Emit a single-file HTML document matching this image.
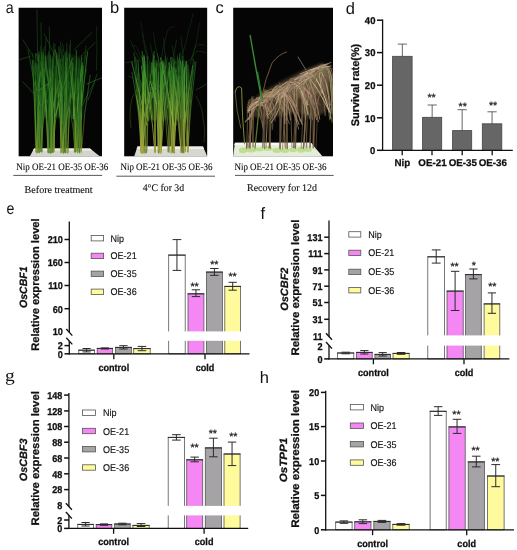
<!DOCTYPE html>
<html lang="en">
<head>
<meta charset="utf-8">
<title>Figure</title>
<style>
html,body{margin:0;padding:0;background:#fff;}
svg{display:block;}
text{text-rendering:geometricPrecision;}
</style>
</head>
<body>
<svg width="517" height="550" viewBox="0 0 517 550">
<defs>
<filter id="b1" x="-5%" y="-5%" width="110%" height="110%"><feGaussianBlur stdDeviation="0.45"/></filter>
<filter id="b3" x="-20%" y="-20%" width="140%" height="140%"><feGaussianBlur stdDeviation="3"/></filter>
<filter id="b2" x="-20%" y="-20%" width="140%" height="140%"><feGaussianBlur stdDeviation="1.5"/></filter>
<clipPath id="ca"><rect x="18.4" y="7.5" width="83.7" height="149.1"/></clipPath>
<clipPath id="cb"><rect x="124.1" y="7.5" width="83.3" height="149.1"/></clipPath>
<clipPath id="cc"><rect x="233.1" y="7.5" width="99.9" height="149.1"/></clipPath>
</defs>
<rect x="0" y="0" width="517" height="550" fill="#fff"/>
<defs>
<linearGradient id="ga1" gradientUnits="userSpaceOnUse" x1="0" y1="152" x2="0" y2="30">
<stop offset="0" stop-color="#5f8a26"/><stop offset="0.3" stop-color="#3c8424"/><stop offset="0.6" stop-color="#226a1e"/><stop offset="1" stop-color="#1a4a18"/></linearGradient>
<linearGradient id="ga2" gradientUnits="userSpaceOnUse" x1="0" y1="152" x2="0" y2="30">
<stop offset="0" stop-color="#3a6a1c"/><stop offset="0.3" stop-color="#235e1c"/><stop offset="0.6" stop-color="#164a16"/><stop offset="1" stop-color="#103410"/></linearGradient>
<linearGradient id="ga3" gradientUnits="userSpaceOnUse" x1="0" y1="152" x2="0" y2="30">
<stop offset="0" stop-color="#8ea432"/><stop offset="0.3" stop-color="#5e9c2a"/><stop offset="0.6" stop-color="#3a8a24"/><stop offset="1" stop-color="#2a6a20"/></linearGradient>
<linearGradient id="gb1" gradientUnits="userSpaceOnUse" x1="0" y1="152" x2="0" y2="30">
<stop offset="0" stop-color="#8c9a30"/><stop offset="0.3" stop-color="#6a942a"/><stop offset="0.6" stop-color="#2e8026"/><stop offset="1" stop-color="#20521c"/></linearGradient>
<linearGradient id="gb2" gradientUnits="userSpaceOnUse" x1="0" y1="152" x2="0" y2="30">
<stop offset="0" stop-color="#5c6e22"/><stop offset="0.3" stop-color="#4a7222"/><stop offset="0.6" stop-color="#226420"/><stop offset="1" stop-color="#183e16"/></linearGradient>
<linearGradient id="gb3" gradientUnits="userSpaceOnUse" x1="0" y1="152" x2="0" y2="30">
<stop offset="0" stop-color="#b0ac3e"/><stop offset="0.3" stop-color="#90aa36"/><stop offset="0.6" stop-color="#489a2e"/><stop offset="1" stop-color="#2e6e24"/></linearGradient>
<linearGradient id="gm" gradientUnits="userSpaceOnUse" x1="0" y1="152" x2="0" y2="40">
<stop offset="0" stop-color="#22381a"/><stop offset="0.4" stop-color="#123412"/><stop offset="1" stop-color="#0a200c"/></linearGradient>
<linearGradient id="gmb" gradientUnits="userSpaceOnUse" x1="0" y1="152" x2="0" y2="40">
<stop offset="0" stop-color="#2c3c18"/><stop offset="0.4" stop-color="#183c14"/><stop offset="1" stop-color="#0c220c"/></linearGradient>
</defs>
<g clip-path="url(#ca)">
<rect x="18.4" y="7.5" width="83.7" height="149.1" fill="#050505"/>
<g filter="url(#b1)">
<path d="M34 148.4L90 148.4L100.6 157L29.5 157Z" fill="#d4d4ce"/>
<path d="M34 148.4L90 148.4L92.2 150.4L33 150.4Z" fill="#eeeeea"/>
<path d="M38 118L35 76L40 54L52 57L60 59L70 54L80 57L84 70L84 100L82 118Z" fill="url(#gm)" opacity="0.9" filter="url(#b2)"/>
<path d="M37.2 152.2Q37.19 103.76 41.21 55.32" fill="none" stroke="url(#ga2)" stroke-width="1.01" stroke-linecap="round" stroke-opacity="0.81"/>
<path d="M38.01 150.94Q39.36 98.78 44.25 46.61" fill="none" stroke="url(#ga2)" stroke-width="0.85" stroke-linecap="round" stroke-opacity="0.93"/>
<path d="M39.11 152.86Q39.62 105.25 46.17 57.64" fill="none" stroke="url(#ga2)" stroke-width="0.73" stroke-linecap="round" stroke-opacity="0.91"/>
<path d="M39.02 152.2Q38.99 117.97 42.05 83.75" fill="none" stroke="url(#ga2)" stroke-width="0.89" stroke-linecap="round" stroke-opacity="0.82"/>
<path d="M40.06 151.55Q38.67 106.06 33.82 60.57" fill="none" stroke="url(#ga1)" stroke-width="0.86" stroke-linecap="round" stroke-opacity="0.87"/>
<path d="M36.65 152.18Q35.35 102.83 32.72 53.48" fill="none" stroke="url(#ga2)" stroke-width="0.84" stroke-linecap="round" stroke-opacity="0.95"/>
<path d="M36.94 153.04Q37.01 102.42 38.89 51.8" fill="none" stroke="url(#ga1)" stroke-width="0.79" stroke-linecap="round" stroke-opacity="0.95"/>
<path d="M39.04 151.99Q38.72 103.39 38.96 54.78" fill="none" stroke="url(#ga1)" stroke-width="0.96" stroke-linecap="round" stroke-opacity="0.97"/>
<path d="M41.77 152.19Q40.12 103.08 35.39 53.97" fill="none" stroke="url(#ga1)" stroke-width="0.91" stroke-linecap="round" stroke-opacity="0.86"/>
<path d="M37.66 151.65Q38.72 109.73 38.56 67.8" fill="none" stroke="url(#ga1)" stroke-width="0.87" stroke-linecap="round" stroke-opacity="0.81"/>
<path d="M40.47 151.2Q41.24 107.89 44.31 64.59" fill="none" stroke="url(#ga2)" stroke-width="0.78" stroke-linecap="round" stroke-opacity="0.98"/>
<path d="M40.85 151.66Q41.52 108.56 45.04 65.47" fill="none" stroke="url(#ga2)" stroke-width="1" stroke-linecap="round" stroke-opacity="0.83"/>
<path d="M36.12 151.48Q35.33 107.3 35.38 63.13" fill="none" stroke="url(#ga3)" stroke-width="0.67" stroke-linecap="round" stroke-opacity="0.87"/>
<path d="M38.99 152.28Q39.86 102.82 43.22 53.36" fill="none" stroke="url(#ga1)" stroke-width="0.9" stroke-linecap="round" stroke-opacity="0.89"/>
<path d="M41.23 151.05Q42.89 110.19 50.53 69.34" fill="none" stroke="url(#ga1)" stroke-width="0.89" stroke-linecap="round" stroke-opacity="0.84"/>
<path d="M42.07 150.93Q41.61 101.34 41.38 51.76" fill="none" stroke="url(#ga2)" stroke-width="0.6" stroke-linecap="round" stroke-opacity="0.91"/>
<path d="M41.8 151.41Q41.11 101.81 41.87 52.21" fill="none" stroke="url(#ga2)" stroke-width="0.76" stroke-linecap="round" stroke-opacity="0.89"/>
<path d="M35.67 151.96Q35.04 108.92 32.88 65.88" fill="none" stroke="url(#ga1)" stroke-width="0.64" stroke-linecap="round" stroke-opacity="0.95"/>
<path d="M52.77 152.07Q52.17 104.43 45.29 56.79" fill="none" stroke="url(#ga3)" stroke-width="0.67" stroke-linecap="round" stroke-opacity="0.98"/>
<path d="M52.9 152.47Q54.04 109.05 54.98 65.63" fill="none" stroke="url(#ga2)" stroke-width="0.72" stroke-linecap="round" stroke-opacity="0.98"/>
<path d="M49.94 152.75Q49.51 109.98 50.58 67.21" fill="none" stroke="url(#ga2)" stroke-width="1.04" stroke-linecap="round" stroke-opacity="0.96"/>
<path d="M53.34 151.98Q54.33 117.65 61.28 83.31" fill="none" stroke="url(#ga1)" stroke-width="0.93" stroke-linecap="round" stroke-opacity="0.96"/>
<path d="M50.8 153.17Q52.17 104.89 53.29 56.6" fill="none" stroke="url(#ga2)" stroke-width="1.03" stroke-linecap="round" stroke-opacity="0.82"/>
<path d="M48.07 152.3Q48.59 102.32 53.64 52.34" fill="none" stroke="url(#ga1)" stroke-width="1.01" stroke-linecap="round" stroke-opacity="0.9"/>
<path d="M52.13 152.51Q52.16 106.29 53.4 60.08" fill="none" stroke="url(#ga2)" stroke-width="0.69" stroke-linecap="round" stroke-opacity="0.89"/>
<path d="M52 151.75Q52.6 103.38 50.3 55.01" fill="none" stroke="url(#ga1)" stroke-width="0.78" stroke-linecap="round" stroke-opacity="0.94"/>
<path d="M48.57 152.78Q48.06 107.75 49.55 62.71" fill="none" stroke="url(#ga2)" stroke-width="1.04" stroke-linecap="round" stroke-opacity="0.83"/>
<path d="M51.36 152.36Q52.78 97.79 53.79 43.21" fill="none" stroke="url(#ga2)" stroke-width="0.84" stroke-linecap="round" stroke-opacity="0.89"/>
<path d="M53.74 152.63Q54.36 102.63 56.85 52.62" fill="none" stroke="url(#ga3)" stroke-width="0.75" stroke-linecap="round" stroke-opacity="0.88"/>
<path d="M48.28 152.2Q47.26 110.11 43.57 68.03" fill="none" stroke="url(#ga1)" stroke-width="1.01" stroke-linecap="round" stroke-opacity="0.97"/>
<path d="M53.78 151.24Q54.37 103.94 57.32 56.64" fill="none" stroke="url(#ga2)" stroke-width="0.6" stroke-linecap="round" stroke-opacity="0.83"/>
<path d="M50.8 152.44Q50.37 106.26 53.02 60.09" fill="none" stroke="url(#ga1)" stroke-width="0.84" stroke-linecap="round" stroke-opacity="0.96"/>
<path d="M48.1 151.89Q46.23 100.8 42.79 49.72" fill="none" stroke="url(#ga1)" stroke-width="0.61" stroke-linecap="round" stroke-opacity="0.89"/>
<path d="M51.83 151.47Q51 114.04 50.7 76.61" fill="none" stroke="url(#ga1)" stroke-width="0.83" stroke-linecap="round" stroke-opacity="0.9"/>
<path d="M49.14 151.29Q47.52 107.99 37.1 64.69" fill="none" stroke="url(#ga1)" stroke-width="0.8" stroke-linecap="round" stroke-opacity="0.82"/>
<path d="M50.57 151.31Q50.06 102.19 48.73 53.07" fill="none" stroke="url(#ga1)" stroke-width="0.74" stroke-linecap="round" stroke-opacity="0.98"/>
<path d="M61.96 151.92Q60.64 99.36 58.98 46.8" fill="none" stroke="url(#ga1)" stroke-width="0.94" stroke-linecap="round" stroke-opacity="0.88"/>
<path d="M64.41 151.84Q62.14 118.07 56.46 84.3" fill="none" stroke="url(#ga2)" stroke-width="0.83" stroke-linecap="round" stroke-opacity="0.88"/>
<path d="M63.44 150.84Q64.1 104.63 67.31 58.42" fill="none" stroke="url(#ga3)" stroke-width="0.75" stroke-linecap="round" stroke-opacity="0.86"/>
<path d="M67.89 153.13Q69.38 105.45 72.46 57.78" fill="none" stroke="url(#ga2)" stroke-width="0.65" stroke-linecap="round" stroke-opacity="0.85"/>
<path d="M67.49 153.07Q68.91 108.26 72.83 63.44" fill="none" stroke="url(#ga3)" stroke-width="0.78" stroke-linecap="round" stroke-opacity="0.98"/>
<path d="M65.02 152.72Q66.31 109.92 73.67 67.12" fill="none" stroke="url(#ga1)" stroke-width="0.68" stroke-linecap="round" stroke-opacity="0.85"/>
<path d="M60.94 152.87Q60.45 118.99 62.79 85.11" fill="none" stroke="url(#ga2)" stroke-width="0.8" stroke-linecap="round" stroke-opacity="1"/>
<path d="M63.89 152.5Q63.37 106.04 65.85 59.57" fill="none" stroke="url(#ga2)" stroke-width="1.02" stroke-linecap="round" stroke-opacity="0.85"/>
<path d="M62.15 152Q62.91 116.91 68.03 81.82" fill="none" stroke="url(#ga2)" stroke-width="0.68" stroke-linecap="round" stroke-opacity="0.96"/>
<path d="M68.14 152.12Q68.33 97.68 66.76 43.23" fill="none" stroke="url(#ga1)" stroke-width="0.69" stroke-linecap="round" stroke-opacity="0.85"/>
<path d="M64.11 151.74Q63.87 112.29 59.57 72.83" fill="none" stroke="url(#ga2)" stroke-width="0.83" stroke-linecap="round" stroke-opacity="1"/>
<path d="M63.34 153.17Q61.17 116.98 56.08 80.78" fill="none" stroke="url(#ga2)" stroke-width="1.04" stroke-linecap="round" stroke-opacity="0.8"/>
<path d="M65.42 152.89Q67.05 98.58 70.14 44.27" fill="none" stroke="url(#ga2)" stroke-width="0.9" stroke-linecap="round" stroke-opacity="0.92"/>
<path d="M65.92 151.87Q64.57 100.88 62.63 49.89" fill="none" stroke="url(#ga2)" stroke-width="0.72" stroke-linecap="round" stroke-opacity="0.99"/>
<path d="M64.85 151.6Q64.35 102.15 65.52 52.7" fill="none" stroke="url(#ga2)" stroke-width="0.64" stroke-linecap="round" stroke-opacity="0.9"/>
<path d="M62.3 152.76Q64.12 117.58 75.47 82.39" fill="none" stroke="url(#ga3)" stroke-width="0.66" stroke-linecap="round" stroke-opacity="0.81"/>
<path d="M60.99 151.17Q61.07 119.87 57.89 88.56" fill="none" stroke="url(#ga3)" stroke-width="1" stroke-linecap="round" stroke-opacity="0.88"/>
<path d="M63.22 152.34Q64.3 101.94 66.35 51.54" fill="none" stroke="url(#ga3)" stroke-width="0.62" stroke-linecap="round" stroke-opacity="0.93"/>
<path d="M79.72 152.75Q80.26 117.17 81.73 81.6" fill="none" stroke="url(#ga3)" stroke-width="0.61" stroke-linecap="round" stroke-opacity="0.96"/>
<path d="M79.55 150.9Q78.32 114.38 77.55 77.86" fill="none" stroke="url(#ga1)" stroke-width="0.89" stroke-linecap="round" stroke-opacity="0.88"/>
<path d="M77.64 150.81Q77.79 114.98 78.48 79.14" fill="none" stroke="url(#ga3)" stroke-width="0.96" stroke-linecap="round" stroke-opacity="0.98"/>
<path d="M75 151.41Q75.24 104.83 73.83 58.25" fill="none" stroke="url(#ga2)" stroke-width="0.63" stroke-linecap="round" stroke-opacity="0.85"/>
<path d="M79.89 151.95Q80.03 104.67 81.79 57.4" fill="none" stroke="url(#ga1)" stroke-width="0.91" stroke-linecap="round" stroke-opacity="0.92"/>
<path d="M79.05 152.36Q80.4 102.18 87.49 52" fill="none" stroke="url(#ga3)" stroke-width="0.91" stroke-linecap="round" stroke-opacity="0.91"/>
<path d="M74.41 151.98Q74.3 105.68 76.66 59.38" fill="none" stroke="url(#ga2)" stroke-width="0.92" stroke-linecap="round" stroke-opacity="0.89"/>
<path d="M77.75 151.55Q78.15 104.72 79.25 57.9" fill="none" stroke="url(#ga1)" stroke-width="0.64" stroke-linecap="round" stroke-opacity="0.8"/>
<path d="M77.7 153Q78.67 109.45 83.69 65.9" fill="none" stroke="url(#ga1)" stroke-width="1.02" stroke-linecap="round" stroke-opacity="0.92"/>
<path d="M75.36 152.25Q72.21 108.57 60.98 64.9" fill="none" stroke="url(#ga2)" stroke-width="0.88" stroke-linecap="round" stroke-opacity="0.98"/>
<path d="M79.5 153.08Q79.24 104.39 81.62 55.7" fill="none" stroke="url(#ga1)" stroke-width="0.91" stroke-linecap="round" stroke-opacity="0.86"/>
<path d="M75.36 151.6Q76.67 103.49 85.7 55.39" fill="none" stroke="url(#ga2)" stroke-width="0.75" stroke-linecap="round" stroke-opacity="0.97"/>
<path d="M75.2 151.74Q76.22 108.8 81.58 65.85" fill="none" stroke="url(#ga3)" stroke-width="1.05" stroke-linecap="round" stroke-opacity="0.82"/>
<path d="M81.13 150.92Q80.23 107.22 78.82 63.52" fill="none" stroke="url(#ga2)" stroke-width="0.9" stroke-linecap="round" stroke-opacity="0.85"/>
<path d="M76.28 150.87Q75.25 106.61 71.85 62.35" fill="none" stroke="url(#ga1)" stroke-width="0.94" stroke-linecap="round" stroke-opacity="0.98"/>
<path d="M81.24 153.04Q80.68 107.98 82.62 62.92" fill="none" stroke="url(#ga3)" stroke-width="0.78" stroke-linecap="round" stroke-opacity="0.95"/>
<path d="M79.06 151.62Q79.04 105.98 79.2 60.33" fill="none" stroke="url(#ga2)" stroke-width="0.73" stroke-linecap="round" stroke-opacity="0.88"/>
<path d="M76.08 151.2Q76.01 104.84 76.81 58.47" fill="none" stroke="url(#ga2)" stroke-width="0.67" stroke-linecap="round" stroke-opacity="0.9"/>
<path d="M41.62 110.02Q38.25 92.43 35.16 74.85" fill="none" stroke="url(#ga2)" stroke-width="0.8" stroke-linecap="round" stroke-opacity="0.82"/>
<path d="M36.92 91.64Q37.42 73.37 38.88 55.09" fill="none" stroke="url(#ga1)" stroke-width="0.81" stroke-linecap="round" stroke-opacity="0.95"/>
<path d="M37.63 104.56Q33.15 81.7 30.42 58.85" fill="none" stroke="url(#ga2)" stroke-width="0.67" stroke-linecap="round" stroke-opacity="0.83"/>
<path d="M38.53 113.19Q37.41 95.99 37.43 78.79" fill="none" stroke="url(#ga2)" stroke-width="0.67" stroke-linecap="round" stroke-opacity="0.88"/>
<path d="M39.96 105.27Q36.6 94.03 34.73 82.79" fill="none" stroke="url(#ga3)" stroke-width="0.74" stroke-linecap="round" stroke-opacity="0.99"/>
<path d="M38.4 90.93Q45.62 86.14 51.13 81.35" fill="none" stroke="url(#ga3)" stroke-width="0.79" stroke-linecap="round" stroke-opacity="0.99"/>
<path d="M35.98 92.36Q39.44 82.14 41.14 71.92" fill="none" stroke="url(#ga3)" stroke-width="0.87" stroke-linecap="round" stroke-opacity="0.82"/>
<path d="M41.27 88.05Q45.17 69.41 48.79 50.77" fill="none" stroke="url(#ga2)" stroke-width="0.57" stroke-linecap="round" stroke-opacity="0.99"/>
<path d="M39.76 109.13Q33.48 79.45 27.99 49.78" fill="none" stroke="url(#ga2)" stroke-width="0.97" stroke-linecap="round" stroke-opacity="0.88"/>
<path d="M35.74 112.04Q37.78 79.22 40.62 46.4" fill="none" stroke="url(#ga2)" stroke-width="0.76" stroke-linecap="round" stroke-opacity="0.93"/>
<path d="M42.34 107.01Q43.02 94.76 42.88 82.5" fill="none" stroke="url(#ga1)" stroke-width="0.69" stroke-linecap="round" stroke-opacity="0.84"/>
<path d="M54.85 113.89Q57.12 81.48 60.47 49.08" fill="none" stroke="url(#ga2)" stroke-width="0.74" stroke-linecap="round" stroke-opacity="0.85"/>
<path d="M46.34 101.52Q41.95 77.52 36.37 53.53" fill="none" stroke="url(#ga1)" stroke-width="0.88" stroke-linecap="round" stroke-opacity="0.84"/>
<path d="M55.7 100.47Q57.88 88.81 61.14 77.16" fill="none" stroke="url(#ga2)" stroke-width="0.65" stroke-linecap="round" stroke-opacity="0.82"/>
<path d="M52.24 112.4Q54.79 96.5 59.11 80.6" fill="none" stroke="url(#ga3)" stroke-width="0.82" stroke-linecap="round" stroke-opacity="0.81"/>
<path d="M46.24 111.85Q44.04 86.81 41 61.78" fill="none" stroke="url(#ga3)" stroke-width="0.63" stroke-linecap="round" stroke-opacity="0.98"/>
<path d="M54.84 117.31Q62.89 87.91 72.21 58.51" fill="none" stroke="url(#ga3)" stroke-width="0.97" stroke-linecap="round" stroke-opacity="0.81"/>
<path d="M52.64 103.14Q52.17 81.68 52.37 60.21" fill="none" stroke="url(#ga1)" stroke-width="0.63" stroke-linecap="round" stroke-opacity="0.82"/>
<path d="M46.81 104.81Q50.18 89.82 54.03 74.83" fill="none" stroke="url(#ga2)" stroke-width="0.9" stroke-linecap="round" stroke-opacity="0.96"/>
<path d="M50.32 89.97Q46.89 76.98 43.97 63.99" fill="none" stroke="url(#ga2)" stroke-width="0.96" stroke-linecap="round" stroke-opacity="0.86"/>
<path d="M53.37 106.98Q51.27 88.37 49.54 69.77" fill="none" stroke="url(#ga3)" stroke-width="0.72" stroke-linecap="round" stroke-opacity="0.81"/>
<path d="M55.2 98.28Q53.91 86.34 51.03 74.4" fill="none" stroke="url(#ga2)" stroke-width="0.7" stroke-linecap="round" stroke-opacity="0.87"/>
<path d="M69.04 89.74Q68.5 85.43 68.78 81.12" fill="none" stroke="url(#ga1)" stroke-width="0.87" stroke-linecap="round" stroke-opacity="0.8"/>
<path d="M61.84 107.01Q57.01 94.68 50.37 82.36" fill="none" stroke="url(#ga2)" stroke-width="0.72" stroke-linecap="round" stroke-opacity="0.98"/>
<path d="M67.65 93.31Q66.76 87.34 66.66 81.38" fill="none" stroke="url(#ga2)" stroke-width="0.86" stroke-linecap="round" stroke-opacity="0.92"/>
<path d="M62.78 100.78Q63.35 80.27 62.8 59.75" fill="none" stroke="url(#ga2)" stroke-width="0.59" stroke-linecap="round" stroke-opacity="0.88"/>
<path d="M61.1 104.31Q57.88 85.5 56.03 66.7" fill="none" stroke="url(#ga1)" stroke-width="0.74" stroke-linecap="round" stroke-opacity="1"/>
<path d="M62.15 91.36Q58.67 70.51 55.21 49.66" fill="none" stroke="url(#ga3)" stroke-width="0.87" stroke-linecap="round" stroke-opacity="0.83"/>
<path d="M60.83 106.44Q63.51 86.45 65.09 66.47" fill="none" stroke="url(#ga2)" stroke-width="0.89" stroke-linecap="round" stroke-opacity="0.86"/>
<path d="M65.17 102.92Q62.83 88.48 61.7 74.05" fill="none" stroke="url(#ga2)" stroke-width="0.66" stroke-linecap="round" stroke-opacity="0.85"/>
<path d="M62.31 124.3Q62.32 89.93 63.35 55.56" fill="none" stroke="url(#ga1)" stroke-width="0.79" stroke-linecap="round" stroke-opacity="0.93"/>
<path d="M69.41 92.09Q71.32 78.07 71.95 64.04" fill="none" stroke="url(#ga2)" stroke-width="0.93" stroke-linecap="round" stroke-opacity="0.81"/>
<path d="M62.44 92.77Q67.03 80.47 69.91 68.16" fill="none" stroke="url(#ga2)" stroke-width="0.72" stroke-linecap="round" stroke-opacity="0.89"/>
<path d="M75.6 119.11Q84.17 100.52 94.32 81.94" fill="none" stroke="url(#ga2)" stroke-width="0.82" stroke-linecap="round" stroke-opacity="0.84"/>
<path d="M76.69 93.65Q77.81 81.22 78.33 68.78" fill="none" stroke="url(#ga1)" stroke-width="0.64" stroke-linecap="round" stroke-opacity="0.96"/>
<path d="M77.09 102.87Q79 86.24 82.6 69.6" fill="none" stroke="url(#ga3)" stroke-width="0.56" stroke-linecap="round" stroke-opacity="0.91"/>
<path d="M73.63 92.06Q69.06 81.17 66.13 70.29" fill="none" stroke="url(#ga2)" stroke-width="0.62" stroke-linecap="round" stroke-opacity="0.88"/>
<path d="M75.83 100.3Q78.36 91.26 81.63 82.22" fill="none" stroke="url(#ga2)" stroke-width="0.8" stroke-linecap="round" stroke-opacity="0.88"/>
<path d="M73.18 118.67Q74.73 89.76 76.66 60.85" fill="none" stroke="url(#ga3)" stroke-width="0.97" stroke-linecap="round" stroke-opacity="0.98"/>
<path d="M77.24 120.81Q72.9 91.13 67.03 61.44" fill="none" stroke="url(#ga2)" stroke-width="0.76" stroke-linecap="round" stroke-opacity="0.83"/>
<path d="M73.52 93.7Q75.68 80.73 76.14 67.77" fill="none" stroke="url(#ga2)" stroke-width="0.88" stroke-linecap="round" stroke-opacity="0.83"/>
<path d="M75.83 108.85Q71.52 95.01 68.76 81.17" fill="none" stroke="url(#ga2)" stroke-width="0.77" stroke-linecap="round" stroke-opacity="0.86"/>
<path d="M81.37 89.74Q84.43 79.42 86.94 69.09" fill="none" stroke="url(#ga2)" stroke-width="0.59" stroke-linecap="round" stroke-opacity="0.93"/>
<path d="M81.57 112.84Q79.26 91.1 78.17 69.36" fill="none" stroke="url(#ga2)" stroke-width="0.76" stroke-linecap="round" stroke-opacity="0.81"/>
<path d="M41.73 152.95Q42.97 104.21 45.7 55.46" fill="none" stroke="url(#ga3)" stroke-width="0.51" stroke-linecap="round" stroke-opacity="0.93"/>
<path d="M37.21 152.3Q37.88 111.95 40.09 71.59" fill="none" stroke="url(#ga3)" stroke-width="0.59" stroke-linecap="round" stroke-opacity="0.86"/>
<path d="M36.65 153.17Q34.82 106.91 32.43 60.65" fill="none" stroke="url(#ga3)" stroke-width="0.64" stroke-linecap="round" stroke-opacity="0.95"/>
<path d="M40.56 151.76Q41.94 114.76 44.35 77.75" fill="none" stroke="url(#ga3)" stroke-width="0.52" stroke-linecap="round" stroke-opacity="0.89"/>
<path d="M48 153.01Q45.95 102.79 41.47 52.57" fill="none" stroke="url(#ga3)" stroke-width="0.59" stroke-linecap="round" stroke-opacity="0.81"/>
<path d="M51.03 150.86Q51.98 111.92 52.96 72.97" fill="none" stroke="url(#ga3)" stroke-width="0.52" stroke-linecap="round" stroke-opacity="0.84"/>
<path d="M54.55 151.33Q53.09 106.47 45.06 61.61" fill="none" stroke="url(#ga3)" stroke-width="0.75" stroke-linecap="round" stroke-opacity="0.83"/>
<path d="M53.92 151.41Q54.24 115.47 55.95 79.53" fill="none" stroke="url(#ga3)" stroke-width="0.79" stroke-linecap="round" stroke-opacity="0.84"/>
<path d="M62.75 152.33Q61.6 103.56 57.94 54.79" fill="none" stroke="url(#ga3)" stroke-width="0.58" stroke-linecap="round" stroke-opacity="0.98"/>
<path d="M62.06 152.33Q61.85 105.66 60.69 58.99" fill="none" stroke="url(#ga3)" stroke-width="0.61" stroke-linecap="round" stroke-opacity="0.91"/>
<path d="M65.09 151.7Q65.2 113.44 66.95 75.19" fill="none" stroke="url(#ga3)" stroke-width="0.61" stroke-linecap="round" stroke-opacity="0.87"/>
<path d="M66.45 153.1Q66.59 107.54 66 61.98" fill="none" stroke="url(#ga3)" stroke-width="0.59" stroke-linecap="round" stroke-opacity="0.86"/>
<path d="M81.43 151.33Q83.68 113.2 90.23 75.06" fill="none" stroke="url(#ga3)" stroke-width="0.59" stroke-linecap="round" stroke-opacity="0.88"/>
<path d="M77 152.37Q74.85 103.11 68.98 53.85" fill="none" stroke="url(#ga3)" stroke-width="0.51" stroke-linecap="round" stroke-opacity="0.91"/>
<path d="M76.56 151.29Q75.49 111.23 70.33 71.17" fill="none" stroke="url(#ga3)" stroke-width="0.69" stroke-linecap="round" stroke-opacity="0.83"/>
<path d="M74.42 150.95Q73.81 106.43 71.83 61.9" fill="none" stroke="url(#ga3)" stroke-width="0.54" stroke-linecap="round" stroke-opacity="0.88"/>
<path d="M37.7 60Q37.3 34.75 36.9 9.5" fill="none" stroke="url(#ga1)" stroke-width="0.7" stroke-linecap="round" stroke-opacity="0.85"/>
<path d="M41.5 60Q41.25 41.3 41 22.6" fill="none" stroke="url(#ga1)" stroke-width="0.7" stroke-linecap="round" stroke-opacity="0.85"/>
<path d="M49.8 62Q49.55 44.35 49.3 26.7" fill="none" stroke="url(#ga1)" stroke-width="0.7" stroke-linecap="round" stroke-opacity="0.85"/>
<path d="M57.5 61.3Q50.9 47.65 44.3 34" fill="none" stroke="url(#ga1)" stroke-width="0.7" stroke-linecap="round" stroke-opacity="0.85"/>
<path d="M73.9 50Q82.95 41.25 92 32.5" fill="none" stroke="url(#ga1)" stroke-width="0.7" stroke-linecap="round" stroke-opacity="0.85"/>
<path d="M81.3 56Q88.3 49.2 95.3 42.4" fill="none" stroke="url(#ga1)" stroke-width="0.7" stroke-linecap="round" stroke-opacity="0.85"/>
<path d="M96.6 70Q97.2 48.35 96.6 26.7" fill="none" stroke="url(#ga1)" stroke-width="0.5" stroke-linecap="round" stroke-opacity="0.85"/>
<path d="M32.8 56Q27.85 47.95 22.9 39.9" fill="none" stroke="url(#ga1)" stroke-width="0.7" stroke-linecap="round" stroke-opacity="0.85"/>
<path d="M30.3 56.3Q24.95 57.95 19.6 59.6" fill="none" stroke="url(#ga1)" stroke-width="0.7" stroke-linecap="round" stroke-opacity="0.85"/>
<path d="M62 60Q61.25 51 60.5 42" fill="none" stroke="url(#ga1)" stroke-width="0.6" stroke-linecap="round" stroke-opacity="0.85"/>
<path d="M70 58Q70.25 49 70.5 40" fill="none" stroke="url(#ga1)" stroke-width="0.6" stroke-linecap="round" stroke-opacity="0.85"/>
<path d="M45 60Q45.5 49 46 38" fill="none" stroke="url(#ga1)" stroke-width="0.6" stroke-linecap="round" stroke-opacity="0.85"/>
<path d="M66 62Q64.25 53 62.5 44" fill="none" stroke="url(#ga1)" stroke-width="0.6" stroke-linecap="round" stroke-opacity="0.85"/>
<path d="M54 60Q54.5 52 55 44" fill="none" stroke="url(#ga1)" stroke-width="0.6" stroke-linecap="round" stroke-opacity="0.85"/>
<path d="M84 62Q85 54 86 46" fill="none" stroke="url(#ga1)" stroke-width="0.6" stroke-linecap="round" stroke-opacity="0.85"/>
<path d="M87 84Q93.25 81 101.5 78" fill="none" stroke="url(#ga1)" stroke-width="0.8" stroke-linecap="round" stroke-opacity="0.85"/>
<path d="M36 96Q29.5 89 23 82" fill="none" stroke="url(#ga1)" stroke-width="0.6" stroke-linecap="round" stroke-opacity="0.85"/>
<path d="M88 100Q93.5 87 97 74" fill="none" stroke="url(#ga1)" stroke-width="0.6" stroke-linecap="round" stroke-opacity="0.85"/>
<path d="M76.4 70Q76.4 60.3 76.4 50.6" fill="none" stroke="url(#ga1)" stroke-width="1.3" stroke-linecap="round" stroke-opacity="0.85"/>
</g></g>
<g clip-path="url(#cb)">
<rect x="124.1" y="7.5" width="83.3" height="149.1" fill="#050505"/>
<g filter="url(#b1)">
<path d="M137.5 146.6L203 146.6L207.5 157L134 157Z" fill="#d8d8d2"/>
<path d="M137.5 146.6L203 146.6L204 149L136.6 149Z" fill="#eeeeea"/>
<path d="M144 120L141 86L145 64L156 62L166 65L176 60L187 62L191 76L191 100L188 120Z" fill="url(#gmb)" opacity="0.9" filter="url(#b2)"/>
<path d="M142.76 152.19Q144.36 122.27 149.79 92.35" fill="none" stroke="url(#gb3)" stroke-width="0.84" stroke-linecap="round" stroke-opacity="0.95"/>
<path d="M142.65 151.77Q142.64 101.67 142.29 51.57" fill="none" stroke="url(#gb1)" stroke-width="0.7" stroke-linecap="round" stroke-opacity="0.98"/>
<path d="M141.59 152.26Q139.48 102.55 134.03 52.85" fill="none" stroke="url(#gb2)" stroke-width="0.8" stroke-linecap="round" stroke-opacity="0.96"/>
<path d="M142.11 153.19Q141.07 105.17 135.68 57.15" fill="none" stroke="url(#gb2)" stroke-width="0.89" stroke-linecap="round" stroke-opacity="0.94"/>
<path d="M140.87 151.22Q141.83 104.33 144.14 57.45" fill="none" stroke="url(#gb1)" stroke-width="1" stroke-linecap="round" stroke-opacity="0.85"/>
<path d="M141.11 153.06Q140.11 112.55 131.87 72.04" fill="none" stroke="url(#gb1)" stroke-width="0.71" stroke-linecap="round" stroke-opacity="0.85"/>
<path d="M144.9 153.03Q142.74 124.04 136.17 95.04" fill="none" stroke="url(#gb1)" stroke-width="0.96" stroke-linecap="round" stroke-opacity="0.98"/>
<path d="M140.93 151.29Q142.02 111.79 142.94 72.28" fill="none" stroke="url(#gb1)" stroke-width="0.66" stroke-linecap="round" stroke-opacity="0.84"/>
<path d="M143.68 152.82Q143.7 123.08 138.95 93.34" fill="none" stroke="url(#gb2)" stroke-width="0.81" stroke-linecap="round" stroke-opacity="0.97"/>
<path d="M145.95 152.17Q145.91 104.43 143.49 56.68" fill="none" stroke="url(#gb2)" stroke-width="0.72" stroke-linecap="round" stroke-opacity="0.88"/>
<path d="M145.13 153.03Q143.79 102.19 142.35 51.35" fill="none" stroke="url(#gb2)" stroke-width="0.74" stroke-linecap="round" stroke-opacity="0.94"/>
<path d="M141.05 152.47Q140.7 106.24 137.98 60" fill="none" stroke="url(#gb1)" stroke-width="0.89" stroke-linecap="round" stroke-opacity="0.97"/>
<path d="M146.43 152.88Q146.61 122.59 151.67 92.3" fill="none" stroke="url(#gb2)" stroke-width="0.97" stroke-linecap="round" stroke-opacity="0.82"/>
<path d="M142.33 152.99Q145.61 102.21 154.24 51.44" fill="none" stroke="url(#gb1)" stroke-width="0.9" stroke-linecap="round" stroke-opacity="0.97"/>
<path d="M145.47 151.51Q145.74 106.4 145.37 61.3" fill="none" stroke="url(#gb1)" stroke-width="0.73" stroke-linecap="round" stroke-opacity="0.8"/>
<path d="M142.71 152.98Q143.54 104.93 144.27 56.87" fill="none" stroke="url(#gb3)" stroke-width="0.91" stroke-linecap="round" stroke-opacity="0.9"/>
<path d="M147.09 151.04Q147.18 103.8 147.36 56.56" fill="none" stroke="url(#gb1)" stroke-width="0.79" stroke-linecap="round" stroke-opacity="0.91"/>
<path d="M155.41 151.85Q154.59 105.16 153.44 58.47" fill="none" stroke="url(#gb1)" stroke-width="0.81" stroke-linecap="round" stroke-opacity="0.95"/>
<path d="M161.02 153.12Q163.3 110.82 169.16 68.51" fill="none" stroke="url(#gb3)" stroke-width="0.84" stroke-linecap="round" stroke-opacity="0.85"/>
<path d="M160.77 151.36Q162.01 111.02 162.58 70.67" fill="none" stroke="url(#gb1)" stroke-width="0.67" stroke-linecap="round" stroke-opacity="0.9"/>
<path d="M161.11 151.75Q160.8 107.07 160.53 62.4" fill="none" stroke="url(#gb1)" stroke-width="0.96" stroke-linecap="round" stroke-opacity="0.88"/>
<path d="M158.57 152.96Q158.01 106.34 158.14 59.71" fill="none" stroke="url(#gb2)" stroke-width="0.8" stroke-linecap="round" stroke-opacity="1"/>
<path d="M158.46 152.35Q159.6 120 161.63 87.65" fill="none" stroke="url(#gb1)" stroke-width="0.74" stroke-linecap="round" stroke-opacity="0.9"/>
<path d="M160.21 151.21Q160.77 109.56 160.57 67.92" fill="none" stroke="url(#gb1)" stroke-width="0.78" stroke-linecap="round" stroke-opacity="0.92"/>
<path d="M154.75 152.61Q151.78 105.11 142.25 57.6" fill="none" stroke="url(#gb3)" stroke-width="0.93" stroke-linecap="round" stroke-opacity="0.83"/>
<path d="M154.97 151.64Q155.46 106.02 156.41 60.4" fill="none" stroke="url(#gb2)" stroke-width="0.69" stroke-linecap="round" stroke-opacity="0.85"/>
<path d="M160.85 153.16Q161.61 109.31 165.82 65.46" fill="none" stroke="url(#gb1)" stroke-width="0.92" stroke-linecap="round" stroke-opacity="0.89"/>
<path d="M155.26 152.92Q154.58 122.96 154.04 92.99" fill="none" stroke="url(#gb1)" stroke-width="0.79" stroke-linecap="round" stroke-opacity="0.88"/>
<path d="M159.64 151.42Q158.45 111.74 158.46 72.07" fill="none" stroke="url(#gb1)" stroke-width="0.9" stroke-linecap="round" stroke-opacity="0.95"/>
<path d="M160.5 152.35Q159.76 110.49 155.93 68.62" fill="none" stroke="url(#gb3)" stroke-width="0.94" stroke-linecap="round" stroke-opacity="0.97"/>
<path d="M158.82 152.95Q158.59 106.81 155.67 60.68" fill="none" stroke="url(#gb2)" stroke-width="0.7" stroke-linecap="round" stroke-opacity="0.94"/>
<path d="M158.45 150.85Q157.58 111.07 154.23 71.29" fill="none" stroke="url(#gb3)" stroke-width="0.94" stroke-linecap="round" stroke-opacity="0.94"/>
<path d="M160.67 153.14Q161.62 104.6 165.52 56.05" fill="none" stroke="url(#gb3)" stroke-width="0.62" stroke-linecap="round" stroke-opacity="0.84"/>
<path d="M159.09 152.18Q159.92 104.96 167.21 57.75" fill="none" stroke="url(#gb2)" stroke-width="0.82" stroke-linecap="round" stroke-opacity="0.9"/>
<path d="M172.02 153.18Q172.68 111.27 175.72 69.36" fill="none" stroke="url(#gb3)" stroke-width="0.67" stroke-linecap="round" stroke-opacity="0.95"/>
<path d="M168.22 151.46Q165.88 112.77 160.96 74.09" fill="none" stroke="url(#gb1)" stroke-width="0.76" stroke-linecap="round" stroke-opacity="0.82"/>
<path d="M174.06 152.58Q172.67 111.8 169.89 71.02" fill="none" stroke="url(#gb3)" stroke-width="0.98" stroke-linecap="round" stroke-opacity="0.99"/>
<path d="M174.64 153.03Q173.14 108.67 170.5 64.32" fill="none" stroke="url(#gb2)" stroke-width="0.63" stroke-linecap="round" stroke-opacity="0.89"/>
<path d="M171.46 152.71Q172.59 110.35 173.82 67.99" fill="none" stroke="url(#gb1)" stroke-width="0.77" stroke-linecap="round" stroke-opacity="0.95"/>
<path d="M172.1 151.44Q175.72 106.91 186.66 62.39" fill="none" stroke="url(#gb1)" stroke-width="0.75" stroke-linecap="round" stroke-opacity="1"/>
<path d="M172.32 151.57Q170.78 107.01 163.09 62.44" fill="none" stroke="url(#gb3)" stroke-width="0.79" stroke-linecap="round" stroke-opacity="0.93"/>
<path d="M172.17 151.72Q172.13 105.24 173.91 58.75" fill="none" stroke="url(#gb3)" stroke-width="0.63" stroke-linecap="round" stroke-opacity="0.98"/>
<path d="M173.09 151.3Q174.93 116.55 180.73 81.8" fill="none" stroke="url(#gb1)" stroke-width="0.63" stroke-linecap="round" stroke-opacity="0.85"/>
<path d="M168.07 151.88Q168.75 106.99 174.61 62.1" fill="none" stroke="url(#gb2)" stroke-width="0.91" stroke-linecap="round" stroke-opacity="0.98"/>
<path d="M173.15 152.96Q173.68 124.09 179.93 95.22" fill="none" stroke="url(#gb1)" stroke-width="0.82" stroke-linecap="round" stroke-opacity="0.84"/>
<path d="M172.42 152.41Q175.25 108.54 183.2 64.67" fill="none" stroke="url(#gb1)" stroke-width="0.65" stroke-linecap="round" stroke-opacity="0.85"/>
<path d="M169.04 152.48Q170.48 104.89 172.17 57.3" fill="none" stroke="url(#gb2)" stroke-width="0.7" stroke-linecap="round" stroke-opacity="0.91"/>
<path d="M173.67 152.47Q174.56 102.78 179.93 53.08" fill="none" stroke="url(#gb1)" stroke-width="0.8" stroke-linecap="round" stroke-opacity="0.97"/>
<path d="M170.08 152.35Q167.27 102.85 157.41 53.35" fill="none" stroke="url(#gb1)" stroke-width="0.61" stroke-linecap="round" stroke-opacity="0.94"/>
<path d="M174.18 151.96Q175.05 111.26 182.59 70.55" fill="none" stroke="url(#gb2)" stroke-width="0.9" stroke-linecap="round" stroke-opacity="0.81"/>
<path d="M172.61 152.06Q172.01 113.26 169.88 74.45" fill="none" stroke="url(#gb2)" stroke-width="0.91" stroke-linecap="round" stroke-opacity="0.86"/>
<path d="M183.34 151.5Q183.17 108.74 179.21 65.97" fill="none" stroke="url(#gb2)" stroke-width="0.93" stroke-linecap="round" stroke-opacity="0.87"/>
<path d="M188.06 151.59Q189.71 105.55 193.38 59.51" fill="none" stroke="url(#gb1)" stroke-width="0.73" stroke-linecap="round" stroke-opacity="0.83"/>
<path d="M187.98 152.53Q186.68 106.86 186.1 61.19" fill="none" stroke="url(#gb3)" stroke-width="0.95" stroke-linecap="round" stroke-opacity="0.91"/>
<path d="M183.75 152.69Q184.26 109.83 184.7 66.96" fill="none" stroke="url(#gb3)" stroke-width="0.96" stroke-linecap="round" stroke-opacity="0.88"/>
<path d="M181.9 152.43Q182.05 119.06 181.67 85.68" fill="none" stroke="url(#gb2)" stroke-width="0.69" stroke-linecap="round" stroke-opacity="0.93"/>
<path d="M182.1 152.37Q181.54 111.16 175.17 69.94" fill="none" stroke="url(#gb2)" stroke-width="0.75" stroke-linecap="round" stroke-opacity="0.96"/>
<path d="M184.96 150.88Q182.47 111.2 175.69 71.52" fill="none" stroke="url(#gb3)" stroke-width="0.61" stroke-linecap="round" stroke-opacity="0.93"/>
<path d="M187.69 151.81Q189.9 106.77 196 61.72" fill="none" stroke="url(#gb2)" stroke-width="0.88" stroke-linecap="round" stroke-opacity="0.89"/>
<path d="M180.92 152.38Q182.03 109.54 181.53 66.69" fill="none" stroke="url(#gb2)" stroke-width="0.66" stroke-linecap="round" stroke-opacity="0.91"/>
<path d="M181.43 152.44Q177.83 107.48 168.38 62.53" fill="none" stroke="url(#gb1)" stroke-width="0.65" stroke-linecap="round" stroke-opacity="0.84"/>
<path d="M181.71 151.38Q182.28 103.85 182.35 56.32" fill="none" stroke="url(#gb2)" stroke-width="0.89" stroke-linecap="round" stroke-opacity="0.98"/>
<path d="M183.51 152.31Q182.55 106.4 182.87 60.49" fill="none" stroke="url(#gb2)" stroke-width="0.88" stroke-linecap="round" stroke-opacity="0.93"/>
<path d="M187.37 150.84Q184.99 105.58 180.33 60.32" fill="none" stroke="url(#gb3)" stroke-width="0.86" stroke-linecap="round" stroke-opacity="0.82"/>
<path d="M183.11 153.08Q182.52 110.02 181.99 66.96" fill="none" stroke="url(#gb2)" stroke-width="0.89" stroke-linecap="round" stroke-opacity="0.94"/>
<path d="M181.89 152.31Q181.26 104.02 177.29 55.72" fill="none" stroke="url(#gb2)" stroke-width="0.77" stroke-linecap="round" stroke-opacity="0.96"/>
<path d="M184.15 153.14Q182.98 107.2 182.71 61.26" fill="none" stroke="url(#gb3)" stroke-width="0.88" stroke-linecap="round" stroke-opacity="0.87"/>
<path d="M185.28 151.54Q187.39 106.67 194.8 61.81" fill="none" stroke="url(#gb2)" stroke-width="0.77" stroke-linecap="round" stroke-opacity="0.88"/>
<path d="M146.35 112.87Q150.76 88.25 157.16 63.63" fill="none" stroke="url(#gb3)" stroke-width="0.67" stroke-linecap="round" stroke-opacity="0.83"/>
<path d="M148.71 119.01Q144.15 99.82 140.44 80.63" fill="none" stroke="url(#gb2)" stroke-width="0.61" stroke-linecap="round" stroke-opacity="0.85"/>
<path d="M148.01 120.67Q143.87 93.23 141.38 65.79" fill="none" stroke="url(#gb3)" stroke-width="0.8" stroke-linecap="round" stroke-opacity="0.84"/>
<path d="M147 125.41Q139.6 93.68 131.78 61.96" fill="none" stroke="url(#gb3)" stroke-width="0.85" stroke-linecap="round" stroke-opacity="0.94"/>
<path d="M148.76 112.28Q152.52 92.33 156.14 72.38" fill="none" stroke="url(#gb1)" stroke-width="0.71" stroke-linecap="round" stroke-opacity="0.85"/>
<path d="M145.3 124.08Q145.56 104.09 145.73 84.09" fill="none" stroke="url(#gb2)" stroke-width="0.76" stroke-linecap="round" stroke-opacity="0.84"/>
<path d="M141.42 96.87Q140.15 85.03 139.27 73.19" fill="none" stroke="url(#gb2)" stroke-width="0.78" stroke-linecap="round" stroke-opacity="0.85"/>
<path d="M148.73 108.74Q145.08 96.1 141.94 83.46" fill="none" stroke="url(#gb1)" stroke-width="0.76" stroke-linecap="round" stroke-opacity="0.83"/>
<path d="M145.47 103.11Q145.69 79.12 143.95 55.14" fill="none" stroke="url(#gb3)" stroke-width="0.94" stroke-linecap="round" stroke-opacity="0.92"/>
<path d="M154.64 125.17Q153.74 94.34 154.45 63.51" fill="none" stroke="url(#gb2)" stroke-width="0.75" stroke-linecap="round" stroke-opacity="0.85"/>
<path d="M152.88 97.64Q153.65 76.69 154.2 55.73" fill="none" stroke="url(#gb3)" stroke-width="0.94" stroke-linecap="round" stroke-opacity="0.9"/>
<path d="M160.96 124Q162.66 103.67 163.8 83.34" fill="none" stroke="url(#gb1)" stroke-width="0.96" stroke-linecap="round" stroke-opacity="0.85"/>
<path d="M158.14 114.34Q163.42 90.86 168.89 67.37" fill="none" stroke="url(#gb2)" stroke-width="0.62" stroke-linecap="round" stroke-opacity="1"/>
<path d="M154.72 91.47Q152.91 77.08 151.7 62.7" fill="none" stroke="url(#gb1)" stroke-width="0.96" stroke-linecap="round" stroke-opacity="0.97"/>
<path d="M152.97 119.88Q150.72 103.69 150.25 87.5" fill="none" stroke="url(#gb1)" stroke-width="0.62" stroke-linecap="round" stroke-opacity="0.99"/>
<path d="M159.27 101.35Q154.55 87.73 148.8 74.11" fill="none" stroke="url(#gb2)" stroke-width="0.6" stroke-linecap="round" stroke-opacity="0.87"/>
<path d="M156.4 104.25Q154.29 92.85 150.51 81.46" fill="none" stroke="url(#gb3)" stroke-width="0.95" stroke-linecap="round" stroke-opacity="0.94"/>
<path d="M154.45 91.37Q156.67 88.45 160 85.54" fill="none" stroke="url(#gb2)" stroke-width="0.97" stroke-linecap="round" stroke-opacity="0.98"/>
<path d="M167.4 107Q174.72 94.82 181.53 82.64" fill="none" stroke="url(#gb2)" stroke-width="0.75" stroke-linecap="round" stroke-opacity="0.86"/>
<path d="M168.34 94.39Q172.94 80.42 178.21 66.45" fill="none" stroke="url(#gb2)" stroke-width="0.88" stroke-linecap="round" stroke-opacity="0.94"/>
<path d="M171.53 95.5Q172.88 81.75 175.59 68" fill="none" stroke="url(#gb2)" stroke-width="0.67" stroke-linecap="round" stroke-opacity="0.87"/>
<path d="M167.68 108.66Q166.34 86.74 163.39 64.81" fill="none" stroke="url(#gb1)" stroke-width="0.6" stroke-linecap="round" stroke-opacity="0.93"/>
<path d="M173.88 125.16Q167.76 91.61 160.63 58.05" fill="none" stroke="url(#gb3)" stroke-width="0.99" stroke-linecap="round" stroke-opacity="1"/>
<path d="M175.98 125.15Q172.94 91.24 170.74 57.32" fill="none" stroke="url(#gb1)" stroke-width="0.95" stroke-linecap="round" stroke-opacity="0.97"/>
<path d="M175.79 95.49Q173.22 83.38 170.61 71.26" fill="none" stroke="url(#gb2)" stroke-width="0.75" stroke-linecap="round" stroke-opacity="0.84"/>
<path d="M170.35 124.66Q167.38 93.04 164.12 61.42" fill="none" stroke="url(#gb2)" stroke-width="0.61" stroke-linecap="round" stroke-opacity="0.9"/>
<path d="M168.3 96.67Q163.08 90.46 156.94 84.24" fill="none" stroke="url(#gb2)" stroke-width="0.89" stroke-linecap="round" stroke-opacity="0.84"/>
<path d="M185.62 116.89Q181.62 99.24 177.29 81.59" fill="none" stroke="url(#gb1)" stroke-width="0.64" stroke-linecap="round" stroke-opacity="0.94"/>
<path d="M184.7 121.96Q188.18 93.89 192.54 65.82" fill="none" stroke="url(#gb3)" stroke-width="0.84" stroke-linecap="round" stroke-opacity="0.82"/>
<path d="M183.6 118.99Q181.65 88.76 179.04 58.53" fill="none" stroke="url(#gb2)" stroke-width="0.66" stroke-linecap="round" stroke-opacity="0.81"/>
<path d="M186.52 111.85Q189.67 98.77 190.94 85.69" fill="none" stroke="url(#gb2)" stroke-width="0.58" stroke-linecap="round" stroke-opacity="0.94"/>
<path d="M187.67 122.89Q185.35 93.9 182.19 64.91" fill="none" stroke="url(#gb1)" stroke-width="0.72" stroke-linecap="round" stroke-opacity="0.86"/>
<path d="M180.58 117.78Q179.04 99.56 178.96 81.35" fill="none" stroke="url(#gb1)" stroke-width="0.66" stroke-linecap="round" stroke-opacity="0.84"/>
<path d="M181.32 93.9Q182.24 78.21 181.89 62.52" fill="none" stroke="url(#gb1)" stroke-width="0.56" stroke-linecap="round" stroke-opacity="0.99"/>
<path d="M186.89 99.93Q189.15 84.85 192.46 69.77" fill="none" stroke="url(#gb2)" stroke-width="0.75" stroke-linecap="round" stroke-opacity="0.97"/>
<path d="M186.67 91.72Q182.1 74.95 177.56 58.18" fill="none" stroke="url(#gb2)" stroke-width="0.78" stroke-linecap="round" stroke-opacity="0.82"/>
<path d="M141.71 152.17Q141.57 111.25 144.52 70.33" fill="none" stroke="url(#gb3)" stroke-width="0.72" stroke-linecap="round" stroke-opacity="0.99"/>
<path d="M140.96 152.25Q140.05 115.76 135.45 79.27" fill="none" stroke="url(#gb3)" stroke-width="0.51" stroke-linecap="round" stroke-opacity="0.96"/>
<path d="M143.31 153.17Q143.37 117.86 142.96 82.55" fill="none" stroke="url(#gb3)" stroke-width="0.6" stroke-linecap="round" stroke-opacity="0.97"/>
<path d="M141.21 151.4Q142.57 111.45 143.63 71.49" fill="none" stroke="url(#gb3)" stroke-width="0.63" stroke-linecap="round" stroke-opacity="0.87"/>
<path d="M157.73 151.75Q158.46 107.23 162.19 62.71" fill="none" stroke="url(#gb3)" stroke-width="0.8" stroke-linecap="round" stroke-opacity="0.93"/>
<path d="M159.78 151.44Q160.69 105.93 162.94 60.41" fill="none" stroke="url(#gb3)" stroke-width="0.7" stroke-linecap="round" stroke-opacity="0.93"/>
<path d="M159.75 153.08Q160.25 109.66 162.9 66.24" fill="none" stroke="url(#gb3)" stroke-width="0.59" stroke-linecap="round" stroke-opacity="0.87"/>
<path d="M155.05 152.03Q155.81 109.58 154.29 67.13" fill="none" stroke="url(#gb3)" stroke-width="0.58" stroke-linecap="round" stroke-opacity="0.92"/>
<path d="M174.18 151.46Q173.65 117.8 170.76 84.14" fill="none" stroke="url(#gb3)" stroke-width="0.72" stroke-linecap="round" stroke-opacity="0.97"/>
<path d="M171.81 152.5Q171.69 110.15 174.2 67.8" fill="none" stroke="url(#gb3)" stroke-width="0.64" stroke-linecap="round" stroke-opacity="0.92"/>
<path d="M170.77 153.13Q170.59 107.7 169.41 62.27" fill="none" stroke="url(#gb3)" stroke-width="0.62" stroke-linecap="round" stroke-opacity="0.83"/>
<path d="M174.33 151.48Q175.27 113.86 179.1 76.25" fill="none" stroke="url(#gb3)" stroke-width="0.8" stroke-linecap="round" stroke-opacity="0.81"/>
<path d="M180.98 151.73Q178.59 112.71 173.39 73.68" fill="none" stroke="url(#gb3)" stroke-width="0.63" stroke-linecap="round" stroke-opacity="0.9"/>
<path d="M188.1 151.14Q188.41 108.07 187.96 65" fill="none" stroke="url(#gb3)" stroke-width="0.56" stroke-linecap="round" stroke-opacity="0.96"/>
<path d="M184.63 152.32Q184.8 111.11 184.17 69.91" fill="none" stroke="url(#gb3)" stroke-width="0.71" stroke-linecap="round" stroke-opacity="0.97"/>
<path d="M180.85 152.17Q179.93 109.07 171.63 65.97" fill="none" stroke="url(#gb3)" stroke-width="0.63" stroke-linecap="round" stroke-opacity="0.97"/>
<path d="M141 62Q134.7 51.35 130.4 40.7" fill="none" stroke="url(#gb2)" stroke-width="0.55" stroke-linecap="round" stroke-opacity="0.8"/>
<path d="M147.7 62Q142.85 42.3 141 22.6" fill="none" stroke="url(#gb2)" stroke-width="0.51" stroke-linecap="round" stroke-opacity="0.8"/>
<path d="M150 64Q145.35 48.65 142.7 33.3" fill="none" stroke="url(#gb2)" stroke-width="0.53" stroke-linecap="round" stroke-opacity="0.8"/>
<path d="M160.8 62Q162.6 46.85 167.4 31.7Q170 25.5 174.5 27" fill="none" stroke="url(#gb2)" stroke-width="0.53" stroke-linecap="round" stroke-opacity="0.8"/>
<path d="M180.6 60Q185.7 45 188.8 30Q192 20 192.9 13.6" fill="none" stroke="url(#gb2)" stroke-width="0.57" stroke-linecap="round" stroke-opacity="0.8"/>
<path d="M192 60Q197.25 41.7 199.5 23.4" fill="none" stroke="url(#gb2)" stroke-width="0.5" stroke-linecap="round" stroke-opacity="0.8"/>
<path d="M190.4 64Q191.9 55.25 195.4 46.5Q198 43.5 204.4 45.2" fill="none" stroke="url(#gb2)" stroke-width="0.52" stroke-linecap="round" stroke-opacity="0.8"/>
<path d="M137 60.5Q131.25 61.75 125.5 63" fill="none" stroke="url(#gb2)" stroke-width="0.54" stroke-linecap="round" stroke-opacity="0.8"/>
<path d="M158.4 60Q154.9 46.25 153.4 32.5" fill="none" stroke="url(#gb2)" stroke-width="0.52" stroke-linecap="round" stroke-opacity="0.8"/>
<path d="M166 64Q164.75 51 163.5 38" fill="none" stroke="url(#gb2)" stroke-width="0.5" stroke-linecap="round" stroke-opacity="0.8"/>
<path d="M172 62Q174.75 51 176.5 40" fill="none" stroke="url(#gb2)" stroke-width="0.58" stroke-linecap="round" stroke-opacity="0.8"/>
<path d="M184 62Q182 49 181 36" fill="none" stroke="url(#gb2)" stroke-width="0.59" stroke-linecap="round" stroke-opacity="0.8"/>
<path d="M154 64Q152.25 54 150.5 44" fill="none" stroke="url(#gb2)" stroke-width="0.53" stroke-linecap="round" stroke-opacity="0.8"/>
<path d="M176 64Q174 55 172 46" fill="none" stroke="url(#gb2)" stroke-width="0.53" stroke-linecap="round" stroke-opacity="0.8"/>
<path d="M146 66Q140.5 57 137 48Q134.5 44 132.5 46.5" fill="none" stroke="url(#gb2)" stroke-width="0.48" stroke-linecap="round" stroke-opacity="0.8"/>
<path d="M186 64Q191 58 196 52Q200 50 206 53" fill="none" stroke="url(#gb2)" stroke-width="0.5" stroke-linecap="round" stroke-opacity="0.8"/>
<path d="M196 96Q202.5 107 203 118Q206 130 204 142" fill="none" stroke="url(#gb2)" stroke-width="0.47" stroke-linecap="round" stroke-opacity="0.8"/>
<path d="M138 88Q131.5 96 131 104Q129 114 131 128" fill="none" stroke="url(#gb2)" stroke-width="0.55" stroke-linecap="round" stroke-opacity="0.8"/>
<path d="M196 90Q202.25 87 206.5 84" fill="none" stroke="url(#gb2)" stroke-width="0.55" stroke-linecap="round" stroke-opacity="0.8"/>
<path d="M140 80Q133 78 128 76" fill="none" stroke="url(#gb2)" stroke-width="0.46" stroke-linecap="round" stroke-opacity="0.8"/>
</g></g>
<g clip-path="url(#cc)">
<rect x="233.1" y="7.5" width="99.9" height="149.1" fill="#050505"/>
<g filter="url(#b1)">
<path d="M235 142.8L311 142.8L323 157L233 157Z" fill="#e6ecdc"/>
<path d="M235 142.8L311 142.8L313 145.2L234 145.2Z" fill="#f6f8f0"/>
<ellipse cx="243" cy="150.34" rx="4.05" ry="2.84" fill="#a0d458" opacity="0.55"/>
<ellipse cx="251" cy="150.18" rx="4.94" ry="2.2" fill="#a0d458" opacity="0.55"/>
<ellipse cx="259" cy="149.35" rx="4.87" ry="2.01" fill="#a0d458" opacity="0.55"/>
<ellipse cx="268" cy="148.59" rx="4.39" ry="2.5" fill="#a0d458" opacity="0.55"/>
<ellipse cx="277" cy="150.34" rx="4.68" ry="2.54" fill="#a0d458" opacity="0.55"/>
<ellipse cx="285" cy="150.5" rx="4.32" ry="2.52" fill="#a0d458" opacity="0.55"/>
<ellipse cx="293" cy="149.87" rx="4.15" ry="2.36" fill="#a0d458" opacity="0.55"/>
<ellipse cx="301" cy="149.69" rx="4.09" ry="2.95" fill="#a0d458" opacity="0.55"/>
<ellipse cx="308" cy="149.85" rx="4.34" ry="2.1" fill="#a0d458" opacity="0.55"/>
<path d="M248 104L262 92L284 80L304 70L322 63L331 66L331 92L326 112L312 118L296 112L280 116L262 118L250 116Z" fill="#54442e" opacity="0.7" filter="url(#b2)"/>
<path d="M284 86L304 72L322 65L330 70L328 90L314 96L298 98L286 98Z" fill="#948260" opacity="0.5" filter="url(#b2)"/>
<path d="M246.45 148.15Q247.99 127.2 247.25 106.24" fill="none" stroke="#5a4a30" stroke-width="1.18" stroke-linecap="round" stroke-opacity="0.85"/>
<path d="M248.18 148.38Q251.06 126.32 252.47 104.26" fill="none" stroke="#86704a" stroke-width="0.66" stroke-linecap="round" stroke-opacity="0.83"/>
<path d="M249.11 147.22Q252.18 125.05 252.89 102.87" fill="none" stroke="#6e5a44" stroke-width="1.01" stroke-linecap="round" stroke-opacity="0.98"/>
<path d="M247.04 148.05Q250.39 126.65 251.84 105.25" fill="none" stroke="#6a563a" stroke-width="0.72" stroke-linecap="round" stroke-opacity="0.85"/>
<path d="M250.06 148.14Q251.44 122.46 252.02 96.78" fill="none" stroke="#8e7858" stroke-width="1.03" stroke-linecap="round" stroke-opacity="0.85"/>
<path d="M253.27 147.01Q252.75 126.24 253.41 105.48" fill="none" stroke="#7c6446" stroke-width="1.11" stroke-linecap="round" stroke-opacity="0.75"/>
<path d="M249.93 148.13Q250.66 128.41 249.16 108.69" fill="none" stroke="#7c6446" stroke-width="1.14" stroke-linecap="round" stroke-opacity="1"/>
<path d="M252.33 147.31Q253.54 121.89 253.21 96.47" fill="none" stroke="#7a6640" stroke-width="0.66" stroke-linecap="round" stroke-opacity="0.77"/>
<path d="M265.97 147.86Q267.59 121.67 267.4 95.47" fill="none" stroke="#8e7858" stroke-width="0.99" stroke-linecap="round" stroke-opacity="0.94"/>
<path d="M263.22 147.34Q264.02 120.77 266.23 94.2" fill="none" stroke="#7c6446" stroke-width="0.66" stroke-linecap="round" stroke-opacity="0.77"/>
<path d="M262.64 147.44Q263.52 118.42 265.01 89.41" fill="none" stroke="#7a6640" stroke-width="1.06" stroke-linecap="round" stroke-opacity="0.86"/>
<path d="M264.53 148.86Q265.47 119.5 264.27 90.14" fill="none" stroke="#6e5a44" stroke-width="0.79" stroke-linecap="round" stroke-opacity="0.95"/>
<path d="M269.14 147.99Q271.59 124.76 271.35 101.54" fill="none" stroke="#5a4a30" stroke-width="0.75" stroke-linecap="round" stroke-opacity="0.92"/>
<path d="M270.37 148.42Q269.39 120.51 271.27 92.59" fill="none" stroke="#7a6640" stroke-width="1.12" stroke-linecap="round" stroke-opacity="0.79"/>
<path d="M269.38 147.58Q269.21 125.27 268.68 102.95" fill="none" stroke="#7c6446" stroke-width="0.67" stroke-linecap="round" stroke-opacity="0.97"/>
<path d="M269.28 147.84Q271.8 124.59 271.84 101.33" fill="none" stroke="#5a4a30" stroke-width="0.93" stroke-linecap="round" stroke-opacity="0.8"/>
<path d="M280.05 148.33Q279.4 115.61 279.71 82.89" fill="none" stroke="#8e7858" stroke-width="0.69" stroke-linecap="round" stroke-opacity="0.78"/>
<path d="M279.66 148.11Q280.47 121.11 281.48 94.12" fill="none" stroke="#6a563a" stroke-width="1.08" stroke-linecap="round" stroke-opacity="0.79"/>
<path d="M280.35 148.92Q281.01 117.79 283.41 86.66" fill="none" stroke="#7c6446" stroke-width="1.17" stroke-linecap="round" stroke-opacity="0.8"/>
<path d="M282.58 149Q284.23 121.91 285.3 94.83" fill="none" stroke="#86704a" stroke-width="0.86" stroke-linecap="round" stroke-opacity="0.88"/>
<path d="M285.58 148.5Q286.9 114.71 287.15 80.92" fill="none" stroke="#6e5a44" stroke-width="0.65" stroke-linecap="round" stroke-opacity="0.82"/>
<path d="M287.2 148.14Q286.97 118.61 287.89 89.09" fill="none" stroke="#7a6640" stroke-width="0.83" stroke-linecap="round" stroke-opacity="0.92"/>
<path d="M287.22 148.78Q285.73 115.43 286.84 82.07" fill="none" stroke="#6e5a44" stroke-width="1.15" stroke-linecap="round" stroke-opacity="0.88"/>
<path d="M285.11 147.45Q283.22 116.5 283.57 85.54" fill="none" stroke="#86704a" stroke-width="1.03" stroke-linecap="round" stroke-opacity="0.84"/>
<path d="M295.52 148.26Q297.23 116.4 296.77 84.54" fill="none" stroke="#6a563a" stroke-width="1.16" stroke-linecap="round" stroke-opacity="0.76"/>
<path d="M294.79 147.83Q296.59 113.81 297.44 79.8" fill="none" stroke="#6a563a" stroke-width="1.02" stroke-linecap="round" stroke-opacity="1"/>
<path d="M293.56 147.58Q295.05 111.55 297.9 75.53" fill="none" stroke="#6a563a" stroke-width="0.97" stroke-linecap="round" stroke-opacity="0.93"/>
<path d="M291.98 147.4Q290.53 113.73 290.26 80.07" fill="none" stroke="#7a6640" stroke-width="0.83" stroke-linecap="round" stroke-opacity="0.89"/>
<path d="M303.57 147.46Q305.86 112.87 308.16 78.28" fill="none" stroke="#5a4a30" stroke-width="0.91" stroke-linecap="round" stroke-opacity="0.92"/>
<path d="M303.33 148.53Q306.07 109.85 307.88 71.16" fill="none" stroke="#6e5a44" stroke-width="1.14" stroke-linecap="round" stroke-opacity="0.9"/>
<path d="M303.86 147.07Q305.73 113.49 308.68 79.9" fill="none" stroke="#86704a" stroke-width="1.07" stroke-linecap="round" stroke-opacity="0.94"/>
<path d="M301.18 148.5Q303.6 112.97 304.04 77.44" fill="none" stroke="#7a6640" stroke-width="0.77" stroke-linecap="round" stroke-opacity="0.84"/>
<path d="M309.98 148.01Q311.09 110.68 311.08 73.35" fill="none" stroke="#8e7858" stroke-width="1.1" stroke-linecap="round" stroke-opacity="0.86"/>
<path d="M306.04 148.02Q308.77 111.89 308.93 75.75" fill="none" stroke="#6e5a44" stroke-width="0.68" stroke-linecap="round" stroke-opacity="0.8"/>
<path d="M309.99 147.35Q310.87 111.48 313.77 75.61" fill="none" stroke="#6a563a" stroke-width="1.07" stroke-linecap="round" stroke-opacity="0.89"/>
<path d="M306.9 147.82Q305.21 112.05 305.31 76.28" fill="none" stroke="#6a563a" stroke-width="0.79" stroke-linecap="round" stroke-opacity="0.92"/>
<path d="M313.94 147.01Q315.2 112.13 315.32 77.24" fill="none" stroke="#8e7858" stroke-width="0.68" stroke-linecap="round" stroke-opacity="0.84"/>
<path d="M313.12 148.13Q314.71 107.72 317.31 67.31" fill="none" stroke="#7c6446" stroke-width="1.09" stroke-linecap="round" stroke-opacity="0.86"/>
<path d="M315.94 148.96Q318.33 107.92 318.68 66.88" fill="none" stroke="#6a563a" stroke-width="0.84" stroke-linecap="round" stroke-opacity="0.78"/>
<path d="M313.07 147.12Q312.68 108.58 313.6 70.05" fill="none" stroke="#8e7858" stroke-width="0.72" stroke-linecap="round" stroke-opacity="0.83"/>
<path d="M317.13 78.29L324.14 64.93Q330.86 64.85 332 110.09" fill="none" stroke="#d0c0a0" stroke-width="0.94" stroke-linecap="round" stroke-opacity="0.75"/>
<path d="M316.05 77.75L325.48 68.14Q339.32 65.88 332 82.36" fill="none" stroke="#5e4a36" stroke-width="0.89" stroke-linecap="round" stroke-opacity="0.85"/>
<path d="M288.35 84.1Q297.31 79.71 306.26 78.26" fill="none" stroke="#8a6a54" stroke-width="0.65" stroke-linecap="round" stroke-opacity="0.71"/>
<path d="M324.08 68.42Q319.43 81.84 322.85 91.87" fill="none" stroke="#a88a70" stroke-width="1.01" stroke-linecap="round" stroke-opacity="0.94"/>
<path d="M296.5 90.61L313.55 71.31Q322.09 70.9 325.27 115.6" fill="none" stroke="#7a6a48" stroke-width="0.93" stroke-linecap="round" stroke-opacity="0.95"/>
<path d="M273.39 97.61L281.05 83.7Q293.07 79.31 293.32 98.38" fill="none" stroke="#6a4e3c" stroke-width="0.85" stroke-linecap="round" stroke-opacity="1"/>
<path d="M280.91 92.58Q282.88 106.99 271.22 122.84" fill="none" stroke="#c0a890" stroke-width="0.89" stroke-linecap="round" stroke-opacity="0.92"/>
<path d="M271.5 90.21Q277.13 83.84 282.76 85.12" fill="none" stroke="#5e4a36" stroke-width="0.91" stroke-linecap="round" stroke-opacity="0.97"/>
<path d="M251.16 107.72L263.57 98.14Q274.26 94.34 281.84 116.12" fill="none" stroke="#7a6a48" stroke-width="0.6" stroke-linecap="round" stroke-opacity="0.87"/>
<path d="M248 108.82Q254.94 100.07 261.89 95.85" fill="none" stroke="#9a7a60" stroke-width="0.65" stroke-linecap="round" stroke-opacity="0.92"/>
<path d="M259.75 105.69Q271.09 95 282.43 86.09" fill="none" stroke="#a08878" stroke-width="0.68" stroke-linecap="round" stroke-opacity="0.86"/>
<path d="M289.34 85.93L306.96 77.87Q315.36 74.78 321.14 96.05" fill="none" stroke="#5e4a36" stroke-width="0.95" stroke-linecap="round" stroke-opacity="0.81"/>
<path d="M307.74 73.04Q307.73 83.94 302.87 95.13" fill="none" stroke="#c0a890" stroke-width="0.99" stroke-linecap="round" stroke-opacity="0.86"/>
<path d="M270.51 100.17Q282.3 88.69 294.1 78.29" fill="none" stroke="#7a5a48" stroke-width="0.95" stroke-linecap="round" stroke-opacity="0.96"/>
<path d="M288.74 84.5Q285.25 95.94 277.25 102.64" fill="none" stroke="#a88a70" stroke-width="1.17" stroke-linecap="round" stroke-opacity="0.84"/>
<path d="M276.98 96.66L286.58 81.56Q296.31 81.45 306.09 96.48" fill="none" stroke="#6e7a44" stroke-width="0.97" stroke-linecap="round" stroke-opacity="0.77"/>
<path d="M255.38 99.54Q269.09 92.21 282.8 90.85" fill="none" stroke="#a88a70" stroke-width="1.12" stroke-linecap="round" stroke-opacity="0.98"/>
<path d="M256.02 103.53Q266.16 96.67 276.29 92.66" fill="none" stroke="#a88a70" stroke-width="1.1" stroke-linecap="round" stroke-opacity="0.77"/>
<path d="M279.33 92.97L287.65 87.94Q294.78 81.46 308.46 104.48" fill="none" stroke="#a08878" stroke-width="0.81" stroke-linecap="round" stroke-opacity="0.94"/>
<path d="M300.5 87.13L314.54 73.34Q323.12 72.28 332 121.07" fill="none" stroke="#a88a70" stroke-width="0.61" stroke-linecap="round" stroke-opacity="0.72"/>
<path d="M295.3 79.04Q297.19 88.46 296.89 106.09" fill="none" stroke="#9a845c" stroke-width="1.06" stroke-linecap="round" stroke-opacity="0.98"/>
<path d="M299.73 84.29L317.23 74.18Q332.9 69.33 332 93.85" fill="none" stroke="#6e7a44" stroke-width="0.71" stroke-linecap="round" stroke-opacity="0.95"/>
<path d="M260.54 100.29L277.79 89.73Q291.98 84.64 293.09 111.84" fill="none" stroke="#9a7a60" stroke-width="0.68" stroke-linecap="round" stroke-opacity="0.76"/>
<path d="M257.94 101.92L275.83 90.21Q289.1 89.2 291.98 98.92" fill="none" stroke="#9a7a60" stroke-width="0.75" stroke-linecap="round" stroke-opacity="0.89"/>
<path d="M284.78 93.95L294.16 82.74Q307.9 78.31 314.32 104.31" fill="none" stroke="#a88a70" stroke-width="1.02" stroke-linecap="round" stroke-opacity="0.96"/>
<path d="M297.03 85.99Q307.12 79.34 317.21 75.5" fill="none" stroke="#a08878" stroke-width="0.78" stroke-linecap="round" stroke-opacity="0.92"/>
<path d="M274.45 92.26L292.41 81.85Q306.23 78.32 316.71 119.72" fill="none" stroke="#a08878" stroke-width="0.8" stroke-linecap="round" stroke-opacity="0.97"/>
<path d="M249.76 102.14Q257.79 100.14 265.81 98.67" fill="none" stroke="#6e7a44" stroke-width="0.84" stroke-linecap="round" stroke-opacity="0.87"/>
<path d="M259.41 106.77Q266.31 95.92 273.21 89.75" fill="none" stroke="#a08878" stroke-width="0.93" stroke-linecap="round" stroke-opacity="0.72"/>
<path d="M256.65 104.4L273.43 90.08Q288.65 84.21 288.53 102.09" fill="none" stroke="#5e4a36" stroke-width="1.18" stroke-linecap="round" stroke-opacity="0.92"/>
<path d="M300.04 86.32L308.4 76.59Q316.41 72.37 332 112.73" fill="none" stroke="#9a7a60" stroke-width="0.61" stroke-linecap="round" stroke-opacity="0.82"/>
<path d="M314.29 72.7L324.16 69.1Q330.21 67.2 332 79.62" fill="none" stroke="#a08878" stroke-width="1.09" stroke-linecap="round" stroke-opacity="0.92"/>
<path d="M259.45 107.53L274.76 94.35Q289.39 88.78 286.15 120.4" fill="none" stroke="#a08878" stroke-width="0.89" stroke-linecap="round" stroke-opacity="0.75"/>
<path d="M280.77 92.28Q274.87 98.84 274.94 121.09" fill="none" stroke="#a08878" stroke-width="0.62" stroke-linecap="round" stroke-opacity="0.87"/>
<path d="M267.5 103.76L275.35 86.73Q284.96 84.32 296.23 121" fill="none" stroke="#7a5a48" stroke-width="0.69" stroke-linecap="round" stroke-opacity="0.81"/>
<path d="M268.75 95.08Q281.51 84.11 294.27 79.32" fill="none" stroke="#ac8e78" stroke-width="1.09" stroke-linecap="round" stroke-opacity="0.93"/>
<path d="M314.91 82.04L325.26 67.19Q331.35 63.86 332 113.81" fill="none" stroke="#9a845c" stroke-width="0.91" stroke-linecap="round" stroke-opacity="0.74"/>
<path d="M254.3 107.4L267.57 96.61Q279 95.17 290.01 110.38" fill="none" stroke="#b89a80" stroke-width="0.62" stroke-linecap="round" stroke-opacity="0.74"/>
<path d="M319.52 73.79Q315.84 84.21 309.76 97.41" fill="none" stroke="#8a6a54" stroke-width="1.07" stroke-linecap="round" stroke-opacity="0.81"/>
<path d="M303.88 77.81L320.25 73.74Q333.59 73.29 332 101.75" fill="none" stroke="#8a6a54" stroke-width="0.73" stroke-linecap="round" stroke-opacity="0.73"/>
<path d="M293.44 81.41Q295.28 94.5 293.57 104.36" fill="none" stroke="#b09a70" stroke-width="1.17" stroke-linecap="round" stroke-opacity="0.71"/>
<path d="M265.9 102.2L275.11 89.99Q286.8 88.9 298.91 124.29" fill="none" stroke="#ac8e78" stroke-width="1.13" stroke-linecap="round" stroke-opacity="0.76"/>
<path d="M296.76 82.59L313.36 71.04Q326.19 66.86 330.61 105.49" fill="none" stroke="#b09a70" stroke-width="0.89" stroke-linecap="round" stroke-opacity="0.75"/>
<path d="M305.24 85.82Q311.64 74.99 318.03 69.63" fill="none" stroke="#6a4e3c" stroke-width="1.12" stroke-linecap="round" stroke-opacity="0.83"/>
<path d="M311.99 70.43Q308.1 77.4 313.29 106.39" fill="none" stroke="#d0c0a0" stroke-width="0.68" stroke-linecap="round" stroke-opacity="0.75"/>
<path d="M256.95 97.53Q258.68 105.88 248.27 119.37" fill="none" stroke="#a08878" stroke-width="1.03" stroke-linecap="round" stroke-opacity="0.99"/>
<path d="M248 112.63L252.92 100.95Q259.4 94.7 263.95 108.89" fill="none" stroke="#a88a70" stroke-width="0.86" stroke-linecap="round" stroke-opacity="0.92"/>
<path d="M274.22 100.58L290.46 78.91Q304.85 72.21 301.69 122.07" fill="none" stroke="#a88a70" stroke-width="0.92" stroke-linecap="round" stroke-opacity="0.86"/>
<path d="M256.38 103.17Q261.81 95.08 267.24 90.26" fill="none" stroke="#9a845c" stroke-width="0.61" stroke-linecap="round" stroke-opacity="0.72"/>
<path d="M278.25 93L292.86 81.23Q304.35 76.4 318.58 121.67" fill="none" stroke="#94745e" stroke-width="1.01" stroke-linecap="round" stroke-opacity="0.86"/>
<path d="M274.51 90.21Q270.08 105.19 268.35 107.12" fill="none" stroke="#6e7a44" stroke-width="0.83" stroke-linecap="round" stroke-opacity="0.96"/>
<path d="M265.31 94Q276.95 89.09 288.58 89.14" fill="none" stroke="#b09a70" stroke-width="1.04" stroke-linecap="round" stroke-opacity="0.95"/>
<path d="M248 108.02L252.59 103.11Q261.75 96.31 262.61 126.79" fill="none" stroke="#94745e" stroke-width="0.94" stroke-linecap="round" stroke-opacity="0.86"/>
<path d="M279.69 89.06L295.61 85.97Q302.25 79.14 309.87 119.14" fill="none" stroke="#6e7a44" stroke-width="0.98" stroke-linecap="round" stroke-opacity="0.81"/>
<path d="M311.39 75.57Q309.61 88.78 307.04 105.45" fill="none" stroke="#9a845c" stroke-width="1.06" stroke-linecap="round" stroke-opacity="0.97"/>
<path d="M267.03 91.01Q262.53 99.4 268.28 118.06" fill="none" stroke="#c0a890" stroke-width="0.92" stroke-linecap="round" stroke-opacity="0.86"/>
<path d="M285.44 87.28Q284.55 101.92 282.59 110" fill="none" stroke="#9a7a60" stroke-width="1.14" stroke-linecap="round" stroke-opacity="0.8"/>
<path d="M292.71 87.14L304.1 76.18Q310.98 73.41 330.05 113.09" fill="none" stroke="#d0c0a0" stroke-width="1" stroke-linecap="round" stroke-opacity="0.84"/>
<path d="M302.43 83.44L311.47 76.43Q324.07 72.07 329.84 120.02" fill="none" stroke="#7a6a48" stroke-width="1.01" stroke-linecap="round" stroke-opacity="0.85"/>
<path d="M248 104.1Q249.03 100.27 250.06 99.94" fill="none" stroke="#9a845c" stroke-width="0.78" stroke-linecap="round" stroke-opacity="0.98"/>
<path d="M275.89 93.04L290.44 83.59Q300.15 83.28 307.52 104.65" fill="none" stroke="#d0c0a0" stroke-width="0.68" stroke-linecap="round" stroke-opacity="0.89"/>
<path d="M281.41 89.21Q282.37 101.39 269.77 121.07" fill="none" stroke="#6e7a44" stroke-width="0.81" stroke-linecap="round" stroke-opacity="0.95"/>
<path d="M279.59 88.64L294.68 77.55Q304.47 73.87 312.62 119.63" fill="none" stroke="#7a5a48" stroke-width="1.12" stroke-linecap="round" stroke-opacity="0.93"/>
<path d="M280.61 88.01L295.64 80.9Q303.41 80.44 312.01 94.03" fill="none" stroke="#5e4a36" stroke-width="1.1" stroke-linecap="round" stroke-opacity="1"/>
<path d="M248 110.16Q257.95 100.19 267.9 91.17" fill="none" stroke="#d0c0a0" stroke-width="1.16" stroke-linecap="round" stroke-opacity="0.87"/>
<path d="M266.99 90.42Q267.27 100.96 257.81 105.3" fill="none" stroke="#7a5a48" stroke-width="0.66" stroke-linecap="round" stroke-opacity="0.95"/>
<path d="M249.5 110.69Q262.67 101.67 275.84 93.81" fill="none" stroke="#b89a80" stroke-width="1.05" stroke-linecap="round" stroke-opacity="1"/>
<path d="M265.01 103.95L275.74 90.58Q282.61 87.89 296.37 106.82" fill="none" stroke="#9a845c" stroke-width="1.19" stroke-linecap="round" stroke-opacity="0.86"/>
<path d="M291.96 87.34L302.44 76.29Q311.01 74.88 313.28 106.36" fill="none" stroke="#5e4a36" stroke-width="0.83" stroke-linecap="round" stroke-opacity="0.96"/>
<path d="M280.84 97.33L287.65 85.73Q300.72 81.08 309.32 93.47" fill="none" stroke="#c0a890" stroke-width="1.08" stroke-linecap="round" stroke-opacity="0.84"/>
<path d="M302.06 86.83L313.4 68.67Q327.43 64.53 330.67 118.7" fill="none" stroke="#c0a890" stroke-width="0.86" stroke-linecap="round" stroke-opacity="0.91"/>
<path d="M248 101.09Q251.22 97.45 254.44 99.58" fill="none" stroke="#7a5a48" stroke-width="0.63" stroke-linecap="round" stroke-opacity="0.94"/>
<path d="M294.57 86.15L306.76 72.95Q318.11 71.83 329.21 111.46" fill="none" stroke="#d0c0a0" stroke-width="1.03" stroke-linecap="round" stroke-opacity="0.94"/>
<path d="M257.92 99.96L265.53 91.23Q275.95 88.26 289.42 123.88" fill="none" stroke="#9a845c" stroke-width="0.73" stroke-linecap="round" stroke-opacity="0.91"/>
<path d="M284.37 88.89Q284.3 100.38 284.93 123.79" fill="none" stroke="#b89a80" stroke-width="1.08" stroke-linecap="round" stroke-opacity="0.79"/>
<path d="M301.23 76.12Q301.45 87.58 303.74 103.49" fill="none" stroke="#b89a80" stroke-width="0.8" stroke-linecap="round" stroke-opacity="0.89"/>
<path d="M277.61 99.25Q291.84 83.76 306.07 75.79" fill="none" stroke="#7a6a48" stroke-width="0.67" stroke-linecap="round" stroke-opacity="0.74"/>
<path d="M277.52 96.9L290.53 81.62Q305.66 80.22 305.01 100.35" fill="none" stroke="#ac8e78" stroke-width="1.05" stroke-linecap="round" stroke-opacity="0.97"/>
<path d="M249.5 107.19Q257.5 100.61 265.5 94.84" fill="none" stroke="#b09a70" stroke-width="1.06" stroke-linecap="round" stroke-opacity="0.87"/>
<path d="M248 105.9L250.1 99.3Q260.6 97.57 271.98 108.6" fill="none" stroke="#6a4e3c" stroke-width="0.78" stroke-linecap="round" stroke-opacity="0.8"/>
<path d="M248 104.24L255.35 100.35Q265.96 100.12 273.56 108.2" fill="none" stroke="#6a4e3c" stroke-width="0.93" stroke-linecap="round" stroke-opacity="0.88"/>
<path d="M278.46 91.94L294.51 80.38Q307.13 79.75 304.58 112.69" fill="none" stroke="#6a4e3c" stroke-width="1" stroke-linecap="round" stroke-opacity="0.81"/>
<path d="M258.04 101.97L270.12 89.26Q277.29 85.98 282.74 111.77" fill="none" stroke="#9a845c" stroke-width="0.69" stroke-linecap="round" stroke-opacity="0.86"/>
<path d="M258.58 105.97L265.22 94.33Q276.57 92.65 276.74 103.36" fill="none" stroke="#b09a70" stroke-width="0.68" stroke-linecap="round" stroke-opacity="0.92"/>
<path d="M288.72 82.56Q296.37 77.04 304.01 74.66" fill="none" stroke="#6a4e3c" stroke-width="0.65" stroke-linecap="round" stroke-opacity="0.75"/>
<path d="M289.89 81.92Q287.13 95.76 282.52 97.09" fill="none" stroke="#c0a890" stroke-width="0.65" stroke-linecap="round" stroke-opacity="0.77"/>
<path d="M268.92 94.49Q268.19 108.59 265.53 124.05" fill="none" stroke="#6a4e3c" stroke-width="0.62" stroke-linecap="round" stroke-opacity="0.94"/>
<path d="M248 104.96L250.83 106.05Q258.31 102.47 263.5 130.46" fill="none" stroke="#7a5a48" stroke-width="0.84" stroke-linecap="round" stroke-opacity="0.94"/>
<path d="M301.62 82.22Q311.42 73.62 321.22 71.26" fill="none" stroke="#8a6a54" stroke-width="0.64" stroke-linecap="round" stroke-opacity="0.94"/>
<path d="M294.19 80.78Q307.06 73.76 319.92 72.47" fill="none" stroke="#9a7a60" stroke-width="0.72" stroke-linecap="round" stroke-opacity="0.95"/>
<path d="M276.89 86.67Q272.26 102.04 266.41 114.9" fill="none" stroke="#ac8e78" stroke-width="1" stroke-linecap="round" stroke-opacity="0.74"/>
<path d="M292.23 88.44Q303.16 79.51 314.1 75.63" fill="none" stroke="#d0c0a0" stroke-width="0.86" stroke-linecap="round" stroke-opacity="0.92"/>
<path d="M255.24 102.53Q252.54 114.15 245.2 121.97" fill="none" stroke="#b09a70" stroke-width="1.05" stroke-linecap="round" stroke-opacity="0.77"/>
<path d="M314.82 78.71L321.86 72.89Q334.69 66.3 332 101.41" fill="none" stroke="#6e7a44" stroke-width="1" stroke-linecap="round" stroke-opacity="0.94"/>
<path d="M294.61 79.68Q304.5 74.95 314.39 71.11" fill="none" stroke="#d0c0a0" stroke-width="1.1" stroke-linecap="round" stroke-opacity="0.7"/>
<path d="M300.89 81.32Q306.72 75.15 312.55 72.7" fill="none" stroke="#a08878" stroke-width="0.87" stroke-linecap="round" stroke-opacity="0.86"/>
<path d="M252.51 99.54Q250.2 107.95 253.05 119.19" fill="none" stroke="#94745e" stroke-width="0.71" stroke-linecap="round" stroke-opacity="0.82"/>
<path d="M268.19 98.63L278.92 92.71Q287.17 86.48 298.69 129.1" fill="none" stroke="#b89a80" stroke-width="0.8" stroke-linecap="round" stroke-opacity="0.81"/>
<path d="M323.6 68.46Q325.52 83 325.94 93.76" fill="none" stroke="#6a4e3c" stroke-width="0.71" stroke-linecap="round" stroke-opacity="0.82"/>
<path d="M268.46 94.55Q280.99 87.47 293.53 83.72" fill="none" stroke="#6e7a44" stroke-width="1.01" stroke-linecap="round" stroke-opacity="0.74"/>
<path d="M272.71 96.53L289.6 82.43Q301.92 79.8 307.95 114.59" fill="none" stroke="#d0c0a0" stroke-width="0.78" stroke-linecap="round" stroke-opacity="0.9"/>
<path d="M263.01 96.37L278.01 93.89Q288.48 88.63 302.26 124.56" fill="none" stroke="#a88a70" stroke-width="1.1" stroke-linecap="round" stroke-opacity="0.87"/>
<path d="M275.04 87.28Q269.7 98.36 263.08 102.89" fill="none" stroke="#b89a80" stroke-width="1.13" stroke-linecap="round" stroke-opacity="0.76"/>
<path d="M265.83 100.5Q280.62 90.01 295.4 85.95" fill="none" stroke="#8a6a54" stroke-width="0.75" stroke-linecap="round" stroke-opacity="0.83"/>
<path d="M302.09 77.15Q297.42 88.11 305.32 106.52" fill="none" stroke="#9a845c" stroke-width="1.03" stroke-linecap="round" stroke-opacity="0.8"/>
<path d="M318.82 67.75Q319.45 76.87 321.96 93.81" fill="none" stroke="#d0c0a0" stroke-width="0.64" stroke-linecap="round" stroke-opacity="0.92"/>
<path d="M279.49 93.12Q277.69 105.33 268.64 114.49" fill="none" stroke="#d0c0a0" stroke-width="0.71" stroke-linecap="round" stroke-opacity="0.97"/>
<path d="M288.83 91.92L302.48 76.8Q310.52 70.43 319.68 118.99" fill="none" stroke="#ac8e78" stroke-width="1.08" stroke-linecap="round" stroke-opacity="0.78"/>
<path d="M258.73 100.34Q266.48 90.4 274.24 87.8" fill="none" stroke="#5e4a36" stroke-width="0.88" stroke-linecap="round" stroke-opacity="0.93"/>
<path d="M264.23 100.25Q277.49 89.46 290.76 81.49" fill="none" stroke="#8a6a54" stroke-width="0.76" stroke-linecap="round" stroke-opacity="0.71"/>
<path d="M312.69 79.61L322.37 66.73Q335.15 63.84 332 81.61" fill="none" stroke="#a88a70" stroke-width="0.64" stroke-linecap="round" stroke-opacity="0.93"/>
<path d="M298.69 87.67Q311.58 76.87 324.48 69.26" fill="none" stroke="#6e7a44" stroke-width="1.06" stroke-linecap="round" stroke-opacity="0.95"/>
<path d="M288.49 83Q286.32 95.69 278.06 99.7" fill="none" stroke="#b89a80" stroke-width="1.03" stroke-linecap="round" stroke-opacity="0.86"/>
<path d="M260.62 105.5L276.08 86.13Q286.12 82.11 290.46 119.97" fill="none" stroke="#b09a70" stroke-width="0.9" stroke-linecap="round" stroke-opacity="0.87"/>
<path d="M248 110.77Q254.82 102.05 261.64 98.53" fill="none" stroke="#d0c0a0" stroke-width="0.9" stroke-linecap="round" stroke-opacity="0.97"/>
<path d="M292.23 87.83Q304.94 75.69 317.66 67.62" fill="none" stroke="#9a845c" stroke-width="1.02" stroke-linecap="round" stroke-opacity="0.91"/>
<path d="M290.75 89.55L296.79 84.56Q309.79 84.06 320.21 105.15" fill="none" stroke="#7a5a48" stroke-width="0.82" stroke-linecap="round" stroke-opacity="0.81"/>
<path d="M250.6 105.03L260.68 95.2Q274.96 94.42 274.28 118.09" fill="none" stroke="#9a7a60" stroke-width="0.87" stroke-linecap="round" stroke-opacity="0.71"/>
<path d="M293.77 79.44Q294.39 93.54 293.48 102.95" fill="none" stroke="#8a6a54" stroke-width="0.73" stroke-linecap="round" stroke-opacity="0.77"/>
<path d="M307.85 85L323.5 66.29Q335.39 64.71 332 122.77" fill="none" stroke="#6e7a44" stroke-width="0.67" stroke-linecap="round" stroke-opacity="0.85"/>
<path d="M261.98 97.61L275.37 95.2Q291.06 89.04 295.25 107.93" fill="none" stroke="#b89a80" stroke-width="0.89" stroke-linecap="round" stroke-opacity="0.83"/>
<path d="M250.03 109L262.75 98.85Q270.73 93.93 275.9 112.11" fill="none" stroke="#8a6a54" stroke-width="1.14" stroke-linecap="round" stroke-opacity="0.83"/>
<path d="M324.92 70.14Q325.28 76.27 315.11 110.69" fill="none" stroke="#8a6a54" stroke-width="1.15" stroke-linecap="round" stroke-opacity="0.72"/>
<path d="M281.74 95.45L298.52 77.68Q307.58 77.38 311.33 99.74" fill="none" stroke="#a08878" stroke-width="0.7" stroke-linecap="round" stroke-opacity="1"/>
<path d="M267.32 102.53L285.04 82.35Q291.87 79.99 300.14 120.96" fill="none" stroke="#ac8e78" stroke-width="0.69" stroke-linecap="round" stroke-opacity="0.85"/>
<path d="M275.39 97.58L290.68 81.17Q298.61 79.23 313.72 107.85" fill="none" stroke="#8a6a54" stroke-width="0.81" stroke-linecap="round" stroke-opacity="0.98"/>
<path d="M248 107.56L262.39 100.31Q274.25 97.66 272.54 129.25" fill="none" stroke="#a88a70" stroke-width="0.68" stroke-linecap="round" stroke-opacity="0.76"/>
<path d="M248 106.46Q250.67 102.36 253.33 104.41" fill="none" stroke="#a08878" stroke-width="0.64" stroke-linecap="round" stroke-opacity="0.8"/>
<path d="M302.57 84.67L319.61 65.55Q334.39 58.93 332 101.21" fill="none" stroke="#a88a70" stroke-width="0.81" stroke-linecap="round" stroke-opacity="0.73"/>
<path d="M297.34 88.57Q308.86 76.5 320.38 72.36" fill="none" stroke="#ac8e78" stroke-width="1.03" stroke-linecap="round" stroke-opacity="0.75"/>
<path d="M305.2 76.57Q302.4 83.2 305.38 119.13" fill="none" stroke="#a88a70" stroke-width="0.96" stroke-linecap="round" stroke-opacity="0.97"/>
<path d="M267.61 93.13Q262.35 101.13 271.6 113.36" fill="none" stroke="#9a7a60" stroke-width="1.09" stroke-linecap="round" stroke-opacity="0.77"/>
<path d="M280.95 92.2Q277.84 107.4 280.75 108.26" fill="none" stroke="#9a7a60" stroke-width="1.07" stroke-linecap="round" stroke-opacity="0.98"/>
<path d="M248 111.82L251.4 104.05Q265.47 102.91 269.6 111.72" fill="none" stroke="#a88a70" stroke-width="1.18" stroke-linecap="round" stroke-opacity="0.76"/>
<path d="M320.56 65.06Q317.6 77.01 311.77 84.69" fill="none" stroke="#7a5a48" stroke-width="0.93" stroke-linecap="round" stroke-opacity="0.85"/>
<path d="M300 74Q313.5 68.25 331 62.5" fill="none" stroke="#c8b096" stroke-width="0.8" stroke-linecap="round" stroke-opacity="0.9"/>
<path d="M306 70Q302 63.5 298 57" fill="none" stroke="#8a8a90" stroke-width="0.8" stroke-linecap="round" stroke-opacity="0.9"/>
<path d="M310 70Q319.5 68 331 66" fill="none" stroke="#d0bca4" stroke-width="0.8" stroke-linecap="round" stroke-opacity="0.9"/>
<path d="M296 78Q309 71 328 64" fill="none" stroke="#b89e84" stroke-width="0.8" stroke-linecap="round" stroke-opacity="0.9"/>
<path d="M261.8 100Q255.6 67.75 250.2 35.5" fill="none" stroke="#3c8c34" stroke-width="1.4" stroke-linecap="round"/>
<path d="M262.4 98Q259.8 85 257.6 72" fill="none" stroke="#2c7a2a" stroke-width="1.2" stroke-linecap="round"/>
<path d="M255 148Q257.5 124 260 100" fill="none" stroke="#5a7a30" stroke-width="1.2" stroke-linecap="round"/>
<path d="M262 96Q265 79.5 272 63Q279 54 286.5 52" fill="none" stroke="#8a6a40" stroke-width="0.8" stroke-linecap="round"/>
<path d="M244.5 144Q242.05 116 241.6 88Q237 84 235.2 92" fill="none" stroke="#7f8a3a" stroke-width="1" stroke-linecap="round"/>
<path d="M235.2 92Q236 110 240.8 128" fill="none" stroke="#6a7430" stroke-width="0.8" stroke-linecap="round"/>
</g></g>
<text font-size="16.5" font-family='"Liberation Sans", Arial, sans-serif' text-anchor="start" fill="#111" transform="translate(5.8 12.7) scale(0.86 1)">a</text>
<text font-size="16.5" font-family='"Liberation Sans", Arial, sans-serif' text-anchor="start" fill="#111" transform="translate(110 12.7)">b</text>
<text font-size="16.5" font-family='"Liberation Sans", Arial, sans-serif' text-anchor="start" fill="#111" transform="translate(215.6 12.7)">c</text>
<text font-size="16.5" font-family='"Liberation Sans", Arial, sans-serif' text-anchor="start" fill="#111" transform="translate(345.8 13.6)">d</text>
<text font-size="16.5" font-family='"Liberation Sans", Arial, sans-serif' text-anchor="start" fill="#111" transform="translate(6.4 214.4) scale(0.86 1)">e</text>
<text font-size="16.5" font-family='"Liberation Sans", Arial, sans-serif' text-anchor="start" fill="#111" transform="translate(260.6 218.8)">f</text>
<text font-size="17" font-family='"Liberation Serif", "Times New Roman", serif' text-anchor="start" fill="#111" transform="translate(5 380.8) scale(1.15 1)">g</text>
<text font-size="16.5" font-family='"Liberation Sans", Arial, sans-serif' text-anchor="start" fill="#111" transform="translate(259.8 382.5)">h</text>
<text font-size="9.9" font-family='"Liberation Serif", "Times New Roman", serif' text-anchor="start" fill="#111" textLength="92" lengthAdjust="spacingAndGlyphs" transform="translate(16.3 169.7)" stroke="#111" stroke-width="0.12">Nip OE-21 OE-35 OE-36</text>
<text font-size="9.9" font-family='"Liberation Serif", "Times New Roman", serif' text-anchor="start" fill="#111" textLength="92" lengthAdjust="spacingAndGlyphs" transform="translate(120.4 169.7)" stroke="#111" stroke-width="0.12">Nip OE-21 OE-35 OE-36</text>
<text font-size="9.9" font-family='"Liberation Serif", "Times New Roman", serif' text-anchor="start" fill="#111" textLength="92" lengthAdjust="spacingAndGlyphs" transform="translate(234.4 169.7)" stroke="#111" stroke-width="0.12">Nip OE-21 OE-35 OE-36</text>
<line x1="13.3" y1="175.4" x2="102.2" y2="175.4" stroke="#444" stroke-width="0.9" stroke-linecap="butt"/>
<line x1="116.4" y1="176.2" x2="215" y2="176.2" stroke="#444" stroke-width="0.9" stroke-linecap="butt"/>
<line x1="235" y1="175.4" x2="333.7" y2="175.4" stroke="#444" stroke-width="0.9" stroke-linecap="butt"/>
<text font-size="10.2" font-family='"Liberation Serif", "Times New Roman", serif' text-anchor="middle" fill="#111" textLength="68" lengthAdjust="spacingAndGlyphs" transform="translate(58.6 192.9)" stroke="#111" stroke-width="0.12">Before treatment</text>
<text font-size="10.2" font-family='"Liberation Serif", "Times New Roman", serif' text-anchor="middle" fill="#111" textLength="41.5" lengthAdjust="spacingAndGlyphs" transform="translate(163.4 191.2)" stroke="#111" stroke-width="0.12">4&#176;C for 3d</text>
<text font-size="10.2" font-family='"Liberation Serif", "Times New Roman", serif' text-anchor="middle" fill="#111" textLength="70" lengthAdjust="spacingAndGlyphs" transform="translate(282 190.6)" stroke="#111" stroke-width="0.12">Recovery for 12d</text>
<line x1="402.35" y1="44.1" x2="402.35" y2="56.3" stroke="#555" stroke-width="0.9" stroke-linecap="butt"/>
<line x1="397.75" y1="44.1" x2="406.95" y2="44.1" stroke="#555" stroke-width="0.9" stroke-linecap="butt"/>
<rect x="392.6" y="56.3" width="19.5" height="94" fill="#666666" stroke="#444" stroke-width="0.8"/>
<line x1="432.15" y1="105" x2="432.15" y2="117.3" stroke="#555" stroke-width="0.9" stroke-linecap="butt"/>
<line x1="427.55" y1="105" x2="436.75" y2="105" stroke="#555" stroke-width="0.9" stroke-linecap="butt"/>
<rect x="422.6" y="117.3" width="19.1" height="33" fill="#666666" stroke="#444" stroke-width="0.8"/>
<line x1="462.15" y1="109.7" x2="462.15" y2="130.6" stroke="#555" stroke-width="0.9" stroke-linecap="butt"/>
<line x1="457.55" y1="109.7" x2="466.75" y2="109.7" stroke="#555" stroke-width="0.9" stroke-linecap="butt"/>
<rect x="452.6" y="130.6" width="19.1" height="19.7" fill="#666666" stroke="#444" stroke-width="0.8"/>
<line x1="492.05" y1="111.8" x2="492.05" y2="123.8" stroke="#555" stroke-width="0.9" stroke-linecap="butt"/>
<line x1="487.45" y1="111.8" x2="496.65" y2="111.8" stroke="#555" stroke-width="0.9" stroke-linecap="butt"/>
<rect x="482.3" y="123.8" width="19.5" height="26.5" fill="#666666" stroke="#444" stroke-width="0.8"/>
<line x1="382.6" y1="19.5" x2="382.6" y2="150.9" stroke="#111" stroke-width="1.3" stroke-linecap="butt"/>
<line x1="382.1" y1="150.3" x2="512.8" y2="150.3" stroke="#111" stroke-width="1.3" stroke-linecap="butt"/>
<line x1="377" y1="20.2" x2="382.6" y2="20.2" stroke="#111" stroke-width="1.5" stroke-linecap="butt"/>
<text font-size="9.9" font-family='"Liberation Sans", Arial, sans-serif' text-anchor="end" fill="#111" font-weight="bold" stroke="#111" stroke-width="0.28" transform="translate(375.4 23.9) scale(0.96 1)">40</text>
<line x1="377" y1="52.6" x2="382.6" y2="52.6" stroke="#111" stroke-width="1.5" stroke-linecap="butt"/>
<text font-size="9.9" font-family='"Liberation Sans", Arial, sans-serif' text-anchor="end" fill="#111" font-weight="bold" stroke="#111" stroke-width="0.28" transform="translate(375.4 56.3) scale(0.96 1)">30</text>
<line x1="377" y1="85.2" x2="382.6" y2="85.2" stroke="#111" stroke-width="1.5" stroke-linecap="butt"/>
<text font-size="9.9" font-family='"Liberation Sans", Arial, sans-serif' text-anchor="end" fill="#111" font-weight="bold" stroke="#111" stroke-width="0.28" transform="translate(375.4 88.9) scale(0.96 1)">20</text>
<line x1="377" y1="117.8" x2="382.6" y2="117.8" stroke="#111" stroke-width="1.5" stroke-linecap="butt"/>
<text font-size="9.9" font-family='"Liberation Sans", Arial, sans-serif' text-anchor="end" fill="#111" font-weight="bold" stroke="#111" stroke-width="0.28" transform="translate(375.4 121.5) scale(0.96 1)">10</text>
<line x1="377" y1="150.3" x2="382.6" y2="150.3" stroke="#111" stroke-width="1.5" stroke-linecap="butt"/>
<text font-size="9.9" font-family='"Liberation Sans", Arial, sans-serif' text-anchor="end" fill="#111" font-weight="bold" stroke="#111" stroke-width="0.28" transform="translate(375.4 154) scale(0.96 1)">0</text>
<text font-size="9.8" font-family='"Liberation Sans", Arial, sans-serif' text-anchor="middle" fill="#111" font-weight="bold" stroke="#111" stroke-width="0.28" transform="translate(402.3 165.9)">Nip</text>
<text font-size="9.8" font-family='"Liberation Sans", Arial, sans-serif' text-anchor="middle" fill="#111" font-weight="bold" stroke="#111" stroke-width="0.28" transform="translate(432.5 165.9)">OE-21</text>
<text font-size="9.8" font-family='"Liberation Sans", Arial, sans-serif' text-anchor="middle" fill="#111" font-weight="bold" stroke="#111" stroke-width="0.28" transform="translate(462.8 165.9)">OE-35</text>
<text font-size="9.8" font-family='"Liberation Sans", Arial, sans-serif' text-anchor="middle" fill="#111" font-weight="bold" stroke="#111" stroke-width="0.28" transform="translate(492.8 165.9)">OE-36</text>
<line x1="402.2" y1="150.3" x2="402.2" y2="155.3" stroke="#111" stroke-width="1.3" stroke-linecap="butt"/>
<line x1="432" y1="150.3" x2="432" y2="155.3" stroke="#111" stroke-width="1.3" stroke-linecap="butt"/>
<line x1="462.2" y1="150.3" x2="462.2" y2="155.3" stroke="#111" stroke-width="1.3" stroke-linecap="butt"/>
<line x1="492.2" y1="150.3" x2="492.2" y2="155.3" stroke="#111" stroke-width="1.3" stroke-linecap="butt"/>
<text font-size="10.6" font-family='"Liberation Sans", Arial, sans-serif' text-anchor="middle" fill="#222" transform="translate(431.6 101)" stroke="#222" stroke-width="0.25">**</text>
<text font-size="10.6" font-family='"Liberation Sans", Arial, sans-serif' text-anchor="middle" fill="#222" transform="translate(462.7 110.2)" stroke="#222" stroke-width="0.25">**</text>
<text font-size="10.6" font-family='"Liberation Sans", Arial, sans-serif' text-anchor="middle" fill="#222" transform="translate(493 109.4)" stroke="#222" stroke-width="0.25">**</text>
<text font-size="11" font-family='"Liberation Sans", Arial, sans-serif' text-anchor="middle" fill="#111" font-weight="bold" stroke="#111" stroke-width="0.28" textLength="82.4" lengthAdjust="spacingAndGlyphs" transform="translate(359 85) rotate(-90)">Survival rate(%)</text>
<rect x="78.8" y="350.2" width="15.6" height="3.6" fill="#ffffff" stroke="#555" stroke-width="0.8"/>
<line x1="78.4" y1="350.2" x2="94.8" y2="350.2" stroke="#2e2e2e" stroke-width="1.1" stroke-linecap="butt"/>
<rect x="97.2" y="348.4" width="15.4" height="5.4" fill="#f487f4" stroke="#555" stroke-width="0.8"/>
<line x1="96.8" y1="348.4" x2="113" y2="348.4" stroke="#2e2e2e" stroke-width="1.1" stroke-linecap="butt"/>
<rect x="115.5" y="347.4" width="15.9" height="6.4" fill="#a5a3a5" stroke="#555" stroke-width="0.8"/>
<line x1="115.1" y1="347.4" x2="131.8" y2="347.4" stroke="#2e2e2e" stroke-width="1.1" stroke-linecap="butt"/>
<rect x="133.7" y="348.6" width="16.5" height="5.2" fill="#fffb9c" stroke="#555" stroke-width="0.8"/>
<line x1="133.3" y1="348.6" x2="150.6" y2="348.6" stroke="#2e2e2e" stroke-width="1.1" stroke-linecap="butt"/>
<rect x="168.7" y="255.1" width="16.5" height="98.7" fill="#ffffff" stroke="#555" stroke-width="0.8"/>
<line x1="168.3" y1="255.1" x2="185.6" y2="255.1" stroke="#2e2e2e" stroke-width="1.1" stroke-linecap="butt"/>
<rect x="188" y="293.8" width="15.9" height="60" fill="#f487f4" stroke="#555" stroke-width="0.8"/>
<line x1="187.6" y1="293.8" x2="204.3" y2="293.8" stroke="#2e2e2e" stroke-width="1.1" stroke-linecap="butt"/>
<rect x="206.4" y="272.1" width="16" height="81.7" fill="#a5a3a5" stroke="#555" stroke-width="0.8"/>
<line x1="206" y1="272.1" x2="222.8" y2="272.1" stroke="#2e2e2e" stroke-width="1.1" stroke-linecap="butt"/>
<rect x="224.8" y="286.4" width="15.8" height="67.4" fill="#fffb9c" stroke="#555" stroke-width="0.8"/>
<line x1="224.4" y1="286.4" x2="241" y2="286.4" stroke="#2e2e2e" stroke-width="1.1" stroke-linecap="butt"/>
<rect x="70.3" y="331.4" width="181.2" height="9.4" fill="#fff"/>
<line x1="86.6" y1="348.5" x2="86.6" y2="351.9" stroke="#2a2a2a" stroke-width="1" stroke-linecap="butt"/>
<line x1="82.5" y1="348.5" x2="90.7" y2="348.5" stroke="#2a2a2a" stroke-width="1" stroke-linecap="butt"/>
<line x1="82.5" y1="351.9" x2="90.7" y2="351.9" stroke="#2a2a2a" stroke-width="1" stroke-linecap="butt"/>
<line x1="104.9" y1="347.9" x2="104.9" y2="349" stroke="#2a2a2a" stroke-width="1" stroke-linecap="butt"/>
<line x1="100.85" y1="347.9" x2="108.95" y2="347.9" stroke="#2a2a2a" stroke-width="1" stroke-linecap="butt"/>
<line x1="100.85" y1="349" x2="108.95" y2="349" stroke="#2a2a2a" stroke-width="1" stroke-linecap="butt"/>
<line x1="123.45" y1="345.7" x2="123.45" y2="349" stroke="#2a2a2a" stroke-width="1" stroke-linecap="butt"/>
<line x1="119.28" y1="345.7" x2="127.62" y2="345.7" stroke="#2a2a2a" stroke-width="1" stroke-linecap="butt"/>
<line x1="119.28" y1="349" x2="127.62" y2="349" stroke="#2a2a2a" stroke-width="1" stroke-linecap="butt"/>
<line x1="141.95" y1="346.4" x2="141.95" y2="350.7" stroke="#2a2a2a" stroke-width="1" stroke-linecap="butt"/>
<line x1="137.62" y1="346.4" x2="146.27" y2="346.4" stroke="#2a2a2a" stroke-width="1" stroke-linecap="butt"/>
<line x1="137.62" y1="350.7" x2="146.27" y2="350.7" stroke="#2a2a2a" stroke-width="1" stroke-linecap="butt"/>
<line x1="176.95" y1="239.6" x2="176.95" y2="270.4" stroke="#2a2a2a" stroke-width="1" stroke-linecap="butt"/>
<line x1="172.62" y1="239.6" x2="181.27" y2="239.6" stroke="#2a2a2a" stroke-width="1" stroke-linecap="butt"/>
<line x1="172.62" y1="270.4" x2="181.27" y2="270.4" stroke="#2a2a2a" stroke-width="1" stroke-linecap="butt"/>
<line x1="195.95" y1="289.8" x2="195.95" y2="296.6" stroke="#2a2a2a" stroke-width="1" stroke-linecap="butt"/>
<line x1="191.77" y1="289.8" x2="200.12" y2="289.8" stroke="#2a2a2a" stroke-width="1" stroke-linecap="butt"/>
<line x1="191.77" y1="296.6" x2="200.12" y2="296.6" stroke="#2a2a2a" stroke-width="1" stroke-linecap="butt"/>
<line x1="214.4" y1="268.5" x2="214.4" y2="275.3" stroke="#2a2a2a" stroke-width="1" stroke-linecap="butt"/>
<line x1="210.2" y1="268.5" x2="218.6" y2="268.5" stroke="#2a2a2a" stroke-width="1" stroke-linecap="butt"/>
<line x1="210.2" y1="275.3" x2="218.6" y2="275.3" stroke="#2a2a2a" stroke-width="1" stroke-linecap="butt"/>
<line x1="232.7" y1="282.3" x2="232.7" y2="290.2" stroke="#2a2a2a" stroke-width="1" stroke-linecap="butt"/>
<line x1="228.55" y1="282.3" x2="236.85" y2="282.3" stroke="#2a2a2a" stroke-width="1" stroke-linecap="butt"/>
<line x1="228.55" y1="290.2" x2="236.85" y2="290.2" stroke="#2a2a2a" stroke-width="1" stroke-linecap="butt"/>
<line x1="69.3" y1="221.4" x2="69.3" y2="332.3" stroke="#111" stroke-width="1.3" stroke-linecap="butt"/>
<line x1="69.3" y1="341.1" x2="69.3" y2="354.4" stroke="#111" stroke-width="1.3" stroke-linecap="butt"/>
<line x1="66.3" y1="329" x2="72.3" y2="335.6" stroke="#111" stroke-width="1.35" stroke-linecap="butt"/>
<line x1="66.3" y1="337.8" x2="72.3" y2="344.4" stroke="#111" stroke-width="1.35" stroke-linecap="butt"/>
<line x1="68.7" y1="353.8" x2="249.5" y2="353.8" stroke="#111" stroke-width="1.3" stroke-linecap="butt"/>
<line x1="64.5" y1="239.5" x2="69.3" y2="239.5" stroke="#111" stroke-width="1.5" stroke-linecap="butt"/>
<text font-size="9.9" font-family='"Liberation Sans", Arial, sans-serif' text-anchor="end" fill="#111" font-weight="bold" stroke="#111" stroke-width="0.28" transform="translate(62.8 243.3) scale(0.92 1)">210</text>
<line x1="64.5" y1="262.5" x2="69.3" y2="262.5" stroke="#111" stroke-width="1.5" stroke-linecap="butt"/>
<text font-size="9.9" font-family='"Liberation Sans", Arial, sans-serif' text-anchor="end" fill="#111" font-weight="bold" stroke="#111" stroke-width="0.28" transform="translate(62.8 266.3) scale(0.92 1)">160</text>
<line x1="64.5" y1="285.5" x2="69.3" y2="285.5" stroke="#111" stroke-width="1.5" stroke-linecap="butt"/>
<text font-size="9.9" font-family='"Liberation Sans", Arial, sans-serif' text-anchor="end" fill="#111" font-weight="bold" stroke="#111" stroke-width="0.28" transform="translate(62.8 289.3) scale(0.92 1)">110</text>
<line x1="64.5" y1="308.7" x2="69.3" y2="308.7" stroke="#111" stroke-width="1.5" stroke-linecap="butt"/>
<text font-size="9.9" font-family='"Liberation Sans", Arial, sans-serif' text-anchor="end" fill="#111" font-weight="bold" stroke="#111" stroke-width="0.28" transform="translate(62.8 312.5) scale(0.92 1)">60</text>
<text font-size="9.9" font-family='"Liberation Sans", Arial, sans-serif' text-anchor="end" fill="#111" font-weight="bold" stroke="#111" stroke-width="0.28" transform="translate(62.8 335.2) scale(0.92 1)">10</text>
<line x1="64.5" y1="345.6" x2="69.3" y2="345.6" stroke="#111" stroke-width="1.5" stroke-linecap="butt"/>
<text font-size="9.9" font-family='"Liberation Sans", Arial, sans-serif' text-anchor="end" fill="#111" font-weight="bold" stroke="#111" stroke-width="0.28" transform="translate(62.8 349.4) scale(0.92 1)">2</text>
<line x1="64.5" y1="353.8" x2="69.3" y2="353.8" stroke="#111" stroke-width="1.5" stroke-linecap="butt"/>
<text font-size="9.9" font-family='"Liberation Sans", Arial, sans-serif' text-anchor="end" fill="#111" font-weight="bold" stroke="#111" stroke-width="0.28" transform="translate(62.8 357.6) scale(0.92 1)">0</text>
<line x1="113.8" y1="353.8" x2="113.8" y2="359.2" stroke="#111" stroke-width="1.3" stroke-linecap="butt"/>
<text font-size="9.9" font-family='"Liberation Sans", Arial, sans-serif' text-anchor="middle" fill="#111" font-weight="bold" stroke="#111" stroke-width="0.28" transform="translate(113.8 370.6) scale(0.92 1)">control</text>
<line x1="205" y1="353.8" x2="205" y2="359.2" stroke="#111" stroke-width="1.3" stroke-linecap="butt"/>
<text font-size="9.9" font-family='"Liberation Sans", Arial, sans-serif' text-anchor="middle" fill="#111" font-weight="bold" stroke="#111" stroke-width="0.28" transform="translate(205 370.6) scale(0.92 1)">cold</text>
<text font-size="10.6" font-family='"Liberation Sans", Arial, sans-serif' text-anchor="middle" fill="#222" transform="translate(194.6 289.5)" stroke="#222" stroke-width="0.25">**</text>
<text font-size="10.6" font-family='"Liberation Sans", Arial, sans-serif' text-anchor="middle" fill="#222" transform="translate(214.3 267.8)" stroke="#222" stroke-width="0.25">**</text>
<text font-size="10.6" font-family='"Liberation Sans", Arial, sans-serif' text-anchor="middle" fill="#222" transform="translate(232.5 280)" stroke="#222" stroke-width="0.25">**</text>
<rect x="91.2" y="235.5" width="12.4" height="5.4" fill="#ffffff" stroke="#555" stroke-width="0.8"/>
<text font-size="9.8" font-family='"Liberation Sans", Arial, sans-serif' text-anchor="start" fill="#111" transform="translate(110.6 241.7) scale(0.92 1)" stroke="#111" stroke-width="0.15">Nip</text>
<rect x="91.2" y="253.2" width="12.4" height="5.4" fill="#f487f4" stroke="#555" stroke-width="0.8"/>
<text font-size="9.8" font-family='"Liberation Sans", Arial, sans-serif' text-anchor="start" fill="#111" transform="translate(110.6 259.4) scale(0.92 1)" stroke="#111" stroke-width="0.15">OE-21</text>
<rect x="91.2" y="271.1" width="12.4" height="5.4" fill="#a5a3a5" stroke="#555" stroke-width="0.8"/>
<text font-size="9.8" font-family='"Liberation Sans", Arial, sans-serif' text-anchor="start" fill="#111" transform="translate(110.6 277.3) scale(0.92 1)" stroke="#111" stroke-width="0.15">OE-35</text>
<rect x="91.2" y="289.1" width="12.4" height="5.4" fill="#fffb9c" stroke="#555" stroke-width="0.8"/>
<text font-size="9.8" font-family='"Liberation Sans", Arial, sans-serif' text-anchor="start" fill="#111" transform="translate(110.6 295.3) scale(0.92 1)" stroke="#111" stroke-width="0.15">OE-36</text>
<text font-size="10.6" font-family='"Liberation Sans", Arial, sans-serif' text-anchor="middle" fill="#111" font-weight="bold" stroke="#111" stroke-width="0.28" font-style="italic" textLength="41.5" lengthAdjust="spacingAndGlyphs" transform="translate(26.7 287.2) rotate(-90)">OsCBF1</text>
<text font-size="11" font-family='"Liberation Sans", Arial, sans-serif' text-anchor="middle" fill="#111" font-weight="bold" stroke="#111" stroke-width="0.28" textLength="132.4" lengthAdjust="spacingAndGlyphs" transform="translate(38.7 284.6) rotate(-90)">Relative expression level</text>
<rect x="337.6" y="353" width="16.2" height="5.9" fill="#ffffff" stroke="#555" stroke-width="0.8"/>
<line x1="337.2" y1="353" x2="354.2" y2="353" stroke="#2e2e2e" stroke-width="1.1" stroke-linecap="butt"/>
<rect x="356.5" y="352.4" width="15.7" height="6.5" fill="#f487f4" stroke="#555" stroke-width="0.8"/>
<line x1="356.1" y1="352.4" x2="372.6" y2="352.4" stroke="#2e2e2e" stroke-width="1.1" stroke-linecap="butt"/>
<rect x="374.9" y="354.4" width="15.6" height="4.5" fill="#a5a3a5" stroke="#555" stroke-width="0.8"/>
<line x1="374.5" y1="354.4" x2="390.9" y2="354.4" stroke="#2e2e2e" stroke-width="1.1" stroke-linecap="butt"/>
<rect x="393" y="353.4" width="16.2" height="5.5" fill="#fffb9c" stroke="#555" stroke-width="0.8"/>
<line x1="392.6" y1="353.4" x2="409.6" y2="353.4" stroke="#2e2e2e" stroke-width="1.1" stroke-linecap="butt"/>
<rect x="427.8" y="256.8" width="16.8" height="102.1" fill="#ffffff" stroke="#555" stroke-width="0.8"/>
<line x1="427.4" y1="256.8" x2="445" y2="256.8" stroke="#2e2e2e" stroke-width="1.1" stroke-linecap="butt"/>
<rect x="447" y="291.1" width="16.2" height="67.8" fill="#f487f4" stroke="#555" stroke-width="0.8"/>
<line x1="446.6" y1="291.1" x2="463.6" y2="291.1" stroke="#2e2e2e" stroke-width="1.1" stroke-linecap="butt"/>
<rect x="465.5" y="274.6" width="15.8" height="84.3" fill="#a5a3a5" stroke="#555" stroke-width="0.8"/>
<line x1="465.1" y1="274.6" x2="481.7" y2="274.6" stroke="#2e2e2e" stroke-width="1.1" stroke-linecap="butt"/>
<rect x="484.1" y="303.9" width="15.7" height="55" fill="#fffb9c" stroke="#555" stroke-width="0.8"/>
<line x1="483.7" y1="303.9" x2="500.2" y2="303.9" stroke="#2e2e2e" stroke-width="1.1" stroke-linecap="butt"/>
<rect x="330" y="335.4" width="181.4" height="10.2" fill="#fff"/>
<line x1="345.7" y1="352.2" x2="345.7" y2="353.8" stroke="#2a2a2a" stroke-width="1" stroke-linecap="butt"/>
<line x1="341.45" y1="352.2" x2="349.95" y2="352.2" stroke="#2a2a2a" stroke-width="1" stroke-linecap="butt"/>
<line x1="341.45" y1="353.8" x2="349.95" y2="353.8" stroke="#2a2a2a" stroke-width="1" stroke-linecap="butt"/>
<line x1="364.35" y1="350.6" x2="364.35" y2="354" stroke="#2a2a2a" stroke-width="1" stroke-linecap="butt"/>
<line x1="360.23" y1="350.6" x2="368.48" y2="350.6" stroke="#2a2a2a" stroke-width="1" stroke-linecap="butt"/>
<line x1="360.23" y1="354" x2="368.48" y2="354" stroke="#2a2a2a" stroke-width="1" stroke-linecap="butt"/>
<line x1="382.7" y1="352.6" x2="382.7" y2="356" stroke="#2a2a2a" stroke-width="1" stroke-linecap="butt"/>
<line x1="378.6" y1="352.6" x2="386.8" y2="352.6" stroke="#2a2a2a" stroke-width="1" stroke-linecap="butt"/>
<line x1="378.6" y1="356" x2="386.8" y2="356" stroke="#2a2a2a" stroke-width="1" stroke-linecap="butt"/>
<line x1="401.1" y1="352.5" x2="401.1" y2="354.3" stroke="#2a2a2a" stroke-width="1" stroke-linecap="butt"/>
<line x1="396.85" y1="352.5" x2="405.35" y2="352.5" stroke="#2a2a2a" stroke-width="1" stroke-linecap="butt"/>
<line x1="396.85" y1="354.3" x2="405.35" y2="354.3" stroke="#2a2a2a" stroke-width="1" stroke-linecap="butt"/>
<line x1="436.2" y1="249.9" x2="436.2" y2="263.1" stroke="#2a2a2a" stroke-width="1" stroke-linecap="butt"/>
<line x1="431.8" y1="249.9" x2="440.6" y2="249.9" stroke="#2a2a2a" stroke-width="1" stroke-linecap="butt"/>
<line x1="431.8" y1="263.1" x2="440.6" y2="263.1" stroke="#2a2a2a" stroke-width="1" stroke-linecap="butt"/>
<line x1="455.1" y1="271.3" x2="455.1" y2="310.5" stroke="#2a2a2a" stroke-width="1" stroke-linecap="butt"/>
<line x1="450.85" y1="271.3" x2="459.35" y2="271.3" stroke="#2a2a2a" stroke-width="1" stroke-linecap="butt"/>
<line x1="450.85" y1="310.5" x2="459.35" y2="310.5" stroke="#2a2a2a" stroke-width="1" stroke-linecap="butt"/>
<line x1="473.4" y1="269" x2="473.4" y2="278.9" stroke="#2a2a2a" stroke-width="1" stroke-linecap="butt"/>
<line x1="469.25" y1="269" x2="477.55" y2="269" stroke="#2a2a2a" stroke-width="1" stroke-linecap="butt"/>
<line x1="469.25" y1="278.9" x2="477.55" y2="278.9" stroke="#2a2a2a" stroke-width="1" stroke-linecap="butt"/>
<line x1="491.95" y1="292.9" x2="491.95" y2="313.3" stroke="#2a2a2a" stroke-width="1" stroke-linecap="butt"/>
<line x1="487.82" y1="292.9" x2="496.07" y2="292.9" stroke="#2a2a2a" stroke-width="1" stroke-linecap="butt"/>
<line x1="487.82" y1="313.3" x2="496.07" y2="313.3" stroke="#2a2a2a" stroke-width="1" stroke-linecap="butt"/>
<line x1="329" y1="220.6" x2="329" y2="336.5" stroke="#111" stroke-width="1.3" stroke-linecap="butt"/>
<line x1="329" y1="345.3" x2="329" y2="359.5" stroke="#111" stroke-width="1.3" stroke-linecap="butt"/>
<line x1="326" y1="333.2" x2="332" y2="339.8" stroke="#111" stroke-width="1.35" stroke-linecap="butt"/>
<line x1="326" y1="342" x2="332" y2="348.6" stroke="#111" stroke-width="1.35" stroke-linecap="butt"/>
<line x1="328.4" y1="358.9" x2="509.4" y2="358.9" stroke="#111" stroke-width="1.3" stroke-linecap="butt"/>
<line x1="324.2" y1="237.2" x2="329" y2="237.2" stroke="#111" stroke-width="1.5" stroke-linecap="butt"/>
<text font-size="9.9" font-family='"Liberation Sans", Arial, sans-serif' text-anchor="end" fill="#111" font-weight="bold" stroke="#111" stroke-width="0.28" transform="translate(322.5 241) scale(0.92 1)">131</text>
<line x1="324.2" y1="253.6" x2="329" y2="253.6" stroke="#111" stroke-width="1.5" stroke-linecap="butt"/>
<text font-size="9.9" font-family='"Liberation Sans", Arial, sans-serif' text-anchor="end" fill="#111" font-weight="bold" stroke="#111" stroke-width="0.28" transform="translate(322.5 257.4) scale(0.92 1)">111</text>
<line x1="324.2" y1="269.9" x2="329" y2="269.9" stroke="#111" stroke-width="1.5" stroke-linecap="butt"/>
<text font-size="9.9" font-family='"Liberation Sans", Arial, sans-serif' text-anchor="end" fill="#111" font-weight="bold" stroke="#111" stroke-width="0.28" transform="translate(322.5 273.7) scale(0.92 1)">91</text>
<line x1="324.2" y1="286.2" x2="329" y2="286.2" stroke="#111" stroke-width="1.5" stroke-linecap="butt"/>
<text font-size="9.9" font-family='"Liberation Sans", Arial, sans-serif' text-anchor="end" fill="#111" font-weight="bold" stroke="#111" stroke-width="0.28" transform="translate(322.5 290) scale(0.92 1)">71</text>
<line x1="324.2" y1="302.5" x2="329" y2="302.5" stroke="#111" stroke-width="1.5" stroke-linecap="butt"/>
<text font-size="9.9" font-family='"Liberation Sans", Arial, sans-serif' text-anchor="end" fill="#111" font-weight="bold" stroke="#111" stroke-width="0.28" transform="translate(322.5 306.3) scale(0.92 1)">51</text>
<line x1="324.2" y1="319.3" x2="329" y2="319.3" stroke="#111" stroke-width="1.5" stroke-linecap="butt"/>
<text font-size="9.9" font-family='"Liberation Sans", Arial, sans-serif' text-anchor="end" fill="#111" font-weight="bold" stroke="#111" stroke-width="0.28" transform="translate(322.5 323.1) scale(0.92 1)">31</text>
<text font-size="9.9" font-family='"Liberation Sans", Arial, sans-serif' text-anchor="end" fill="#111" font-weight="bold" stroke="#111" stroke-width="0.28" transform="translate(322.5 339.8) scale(0.92 1)">11</text>
<text font-size="9.9" font-family='"Liberation Sans", Arial, sans-serif' text-anchor="end" fill="#111" font-weight="bold" stroke="#111" stroke-width="0.28" transform="translate(322.5 349.6) scale(0.92 1)">2</text>
<line x1="324.2" y1="358.9" x2="329" y2="358.9" stroke="#111" stroke-width="1.5" stroke-linecap="butt"/>
<text font-size="9.9" font-family='"Liberation Sans", Arial, sans-serif' text-anchor="end" fill="#111" font-weight="bold" stroke="#111" stroke-width="0.28" transform="translate(322.5 362.7) scale(0.92 1)">0</text>
<line x1="373.4" y1="358.9" x2="373.4" y2="364.3" stroke="#111" stroke-width="1.3" stroke-linecap="butt"/>
<text font-size="9.9" font-family='"Liberation Sans", Arial, sans-serif' text-anchor="middle" fill="#111" font-weight="bold" stroke="#111" stroke-width="0.28" transform="translate(373.4 375.7) scale(0.92 1)">control</text>
<line x1="464" y1="358.9" x2="464" y2="364.3" stroke="#111" stroke-width="1.3" stroke-linecap="butt"/>
<text font-size="9.9" font-family='"Liberation Sans", Arial, sans-serif' text-anchor="middle" fill="#111" font-weight="bold" stroke="#111" stroke-width="0.28" transform="translate(464 375.7) scale(0.92 1)">cold</text>
<text font-size="10.6" font-family='"Liberation Sans", Arial, sans-serif' text-anchor="middle" fill="#222" transform="translate(454.6 269.6)" stroke="#222" stroke-width="0.25">**</text>
<text font-size="10.6" font-family='"Liberation Sans", Arial, sans-serif' text-anchor="middle" fill="#222" transform="translate(473.7 268.8)" stroke="#222" stroke-width="0.25">*</text>
<text font-size="10.6" font-family='"Liberation Sans", Arial, sans-serif' text-anchor="middle" fill="#222" transform="translate(492.3 289.7)" stroke="#222" stroke-width="0.25">**</text>
<rect x="348.8" y="231.7" width="12" height="5.4" fill="#ffffff" stroke="#555" stroke-width="0.8"/>
<text font-size="9.8" font-family='"Liberation Sans", Arial, sans-serif' text-anchor="start" fill="#111" transform="translate(368.2 237.9) scale(0.92 1)" stroke="#111" stroke-width="0.15">Nip</text>
<rect x="348.8" y="250.2" width="12" height="5.4" fill="#f487f4" stroke="#555" stroke-width="0.8"/>
<text font-size="9.8" font-family='"Liberation Sans", Arial, sans-serif' text-anchor="start" fill="#111" transform="translate(368.2 256.4) scale(0.92 1)" stroke="#111" stroke-width="0.15">OE-21</text>
<rect x="348.8" y="269.2" width="12" height="5.4" fill="#a5a3a5" stroke="#555" stroke-width="0.8"/>
<text font-size="9.8" font-family='"Liberation Sans", Arial, sans-serif' text-anchor="start" fill="#111" transform="translate(368.2 275.4) scale(0.92 1)" stroke="#111" stroke-width="0.15">OE-35</text>
<rect x="348.8" y="287.5" width="12" height="5.4" fill="#fffb9c" stroke="#555" stroke-width="0.8"/>
<text font-size="9.8" font-family='"Liberation Sans", Arial, sans-serif' text-anchor="start" fill="#111" transform="translate(368.2 293.7) scale(0.92 1)" stroke="#111" stroke-width="0.15">OE-36</text>
<text font-size="10.6" font-family='"Liberation Sans", Arial, sans-serif' text-anchor="middle" fill="#111" font-weight="bold" stroke="#111" stroke-width="0.28" font-style="italic" textLength="43.2" lengthAdjust="spacingAndGlyphs" transform="translate(287.6 289.2) rotate(-90)">OsCBF2</text>
<text font-size="11" font-family='"Liberation Sans", Arial, sans-serif' text-anchor="middle" fill="#111" font-weight="bold" stroke="#111" stroke-width="0.28" textLength="136" lengthAdjust="spacingAndGlyphs" transform="translate(298.8 287.6) rotate(-90)">Relative expression level</text>
<rect x="77.8" y="524.4" width="15.6" height="4" fill="#ffffff" stroke="#555" stroke-width="0.8"/>
<line x1="77.4" y1="524.4" x2="93.8" y2="524.4" stroke="#2e2e2e" stroke-width="1.1" stroke-linecap="butt"/>
<rect x="96.2" y="524.6" width="15.6" height="3.8" fill="#f487f4" stroke="#555" stroke-width="0.8"/>
<line x1="95.8" y1="524.6" x2="112.2" y2="524.6" stroke="#2e2e2e" stroke-width="1.1" stroke-linecap="butt"/>
<rect x="114.6" y="524" width="15.6" height="4.4" fill="#a5a3a5" stroke="#555" stroke-width="0.8"/>
<line x1="114.2" y1="524" x2="130.6" y2="524" stroke="#2e2e2e" stroke-width="1.1" stroke-linecap="butt"/>
<rect x="132.9" y="525.4" width="16.3" height="3" fill="#fffb9c" stroke="#555" stroke-width="0.8"/>
<line x1="132.5" y1="525.4" x2="149.6" y2="525.4" stroke="#2e2e2e" stroke-width="1.1" stroke-linecap="butt"/>
<rect x="168.2" y="437.4" width="16.4" height="91" fill="#ffffff" stroke="#555" stroke-width="0.8"/>
<line x1="167.8" y1="437.4" x2="185" y2="437.4" stroke="#2e2e2e" stroke-width="1.1" stroke-linecap="butt"/>
<rect x="186.7" y="459.8" width="16" height="68.6" fill="#f487f4" stroke="#555" stroke-width="0.8"/>
<line x1="186.3" y1="459.8" x2="203.1" y2="459.8" stroke="#2e2e2e" stroke-width="1.1" stroke-linecap="butt"/>
<rect x="205.3" y="447.9" width="16.2" height="80.5" fill="#a5a3a5" stroke="#555" stroke-width="0.8"/>
<line x1="204.9" y1="447.9" x2="221.9" y2="447.9" stroke="#2e2e2e" stroke-width="1.1" stroke-linecap="butt"/>
<rect x="224" y="454" width="16.1" height="74.4" fill="#fffb9c" stroke="#555" stroke-width="0.8"/>
<line x1="223.6" y1="454" x2="240.5" y2="454" stroke="#2e2e2e" stroke-width="1.1" stroke-linecap="butt"/>
<rect x="69.9" y="505.9" width="180.3" height="9.5" fill="#fff"/>
<line x1="85.6" y1="522.5" x2="85.6" y2="526" stroke="#2a2a2a" stroke-width="1" stroke-linecap="butt"/>
<line x1="81.5" y1="522.5" x2="89.7" y2="522.5" stroke="#2a2a2a" stroke-width="1" stroke-linecap="butt"/>
<line x1="81.5" y1="526" x2="89.7" y2="526" stroke="#2a2a2a" stroke-width="1" stroke-linecap="butt"/>
<line x1="104" y1="523.9" x2="104" y2="525.3" stroke="#2a2a2a" stroke-width="1" stroke-linecap="butt"/>
<line x1="99.9" y1="523.9" x2="108.1" y2="523.9" stroke="#2a2a2a" stroke-width="1" stroke-linecap="butt"/>
<line x1="99.9" y1="525.3" x2="108.1" y2="525.3" stroke="#2a2a2a" stroke-width="1" stroke-linecap="butt"/>
<line x1="122.4" y1="523.2" x2="122.4" y2="524.8" stroke="#2a2a2a" stroke-width="1" stroke-linecap="butt"/>
<line x1="118.3" y1="523.2" x2="126.5" y2="523.2" stroke="#2a2a2a" stroke-width="1" stroke-linecap="butt"/>
<line x1="118.3" y1="524.8" x2="126.5" y2="524.8" stroke="#2a2a2a" stroke-width="1" stroke-linecap="butt"/>
<line x1="141.05" y1="523.6" x2="141.05" y2="526.5" stroke="#2a2a2a" stroke-width="1" stroke-linecap="butt"/>
<line x1="136.78" y1="523.6" x2="145.33" y2="523.6" stroke="#2a2a2a" stroke-width="1" stroke-linecap="butt"/>
<line x1="136.78" y1="526.5" x2="145.33" y2="526.5" stroke="#2a2a2a" stroke-width="1" stroke-linecap="butt"/>
<line x1="176.4" y1="434.7" x2="176.4" y2="440.1" stroke="#2a2a2a" stroke-width="1" stroke-linecap="butt"/>
<line x1="172.1" y1="434.7" x2="180.7" y2="434.7" stroke="#2a2a2a" stroke-width="1" stroke-linecap="butt"/>
<line x1="172.1" y1="440.1" x2="180.7" y2="440.1" stroke="#2a2a2a" stroke-width="1" stroke-linecap="butt"/>
<line x1="194.7" y1="457.1" x2="194.7" y2="461.8" stroke="#2a2a2a" stroke-width="1" stroke-linecap="butt"/>
<line x1="190.5" y1="457.1" x2="198.9" y2="457.1" stroke="#2a2a2a" stroke-width="1" stroke-linecap="butt"/>
<line x1="190.5" y1="461.8" x2="198.9" y2="461.8" stroke="#2a2a2a" stroke-width="1" stroke-linecap="butt"/>
<line x1="213.4" y1="438.2" x2="213.4" y2="456.8" stroke="#2a2a2a" stroke-width="1" stroke-linecap="butt"/>
<line x1="209.15" y1="438.2" x2="217.65" y2="438.2" stroke="#2a2a2a" stroke-width="1" stroke-linecap="butt"/>
<line x1="209.15" y1="456.8" x2="217.65" y2="456.8" stroke="#2a2a2a" stroke-width="1" stroke-linecap="butt"/>
<line x1="232.05" y1="442.1" x2="232.05" y2="465.6" stroke="#2a2a2a" stroke-width="1" stroke-linecap="butt"/>
<line x1="227.83" y1="442.1" x2="236.28" y2="442.1" stroke="#2a2a2a" stroke-width="1" stroke-linecap="butt"/>
<line x1="227.83" y1="465.6" x2="236.28" y2="465.6" stroke="#2a2a2a" stroke-width="1" stroke-linecap="butt"/>
<line x1="68.9" y1="393.1" x2="68.9" y2="506.5" stroke="#111" stroke-width="1.3" stroke-linecap="butt"/>
<line x1="68.9" y1="515.3" x2="68.9" y2="529" stroke="#111" stroke-width="1.3" stroke-linecap="butt"/>
<line x1="65.9" y1="503.2" x2="71.9" y2="509.8" stroke="#111" stroke-width="1.35" stroke-linecap="butt"/>
<line x1="65.9" y1="512" x2="71.9" y2="518.6" stroke="#111" stroke-width="1.35" stroke-linecap="butt"/>
<line x1="68.3" y1="528.4" x2="248.2" y2="528.4" stroke="#111" stroke-width="1.3" stroke-linecap="butt"/>
<line x1="64.1" y1="395.1" x2="68.9" y2="395.1" stroke="#111" stroke-width="1.5" stroke-linecap="butt"/>
<text font-size="9.9" font-family='"Liberation Sans", Arial, sans-serif' text-anchor="end" fill="#111" font-weight="bold" stroke="#111" stroke-width="0.28" transform="translate(62.4 398.9) scale(0.92 1)">148</text>
<line x1="64.1" y1="410.9" x2="68.9" y2="410.9" stroke="#111" stroke-width="1.5" stroke-linecap="butt"/>
<text font-size="9.9" font-family='"Liberation Sans", Arial, sans-serif' text-anchor="end" fill="#111" font-weight="bold" stroke="#111" stroke-width="0.28" transform="translate(62.4 414.7) scale(0.92 1)">128</text>
<line x1="64.1" y1="426.5" x2="68.9" y2="426.5" stroke="#111" stroke-width="1.5" stroke-linecap="butt"/>
<text font-size="9.9" font-family='"Liberation Sans", Arial, sans-serif' text-anchor="end" fill="#111" font-weight="bold" stroke="#111" stroke-width="0.28" transform="translate(62.4 430.3) scale(0.92 1)">108</text>
<line x1="64.1" y1="442.2" x2="68.9" y2="442.2" stroke="#111" stroke-width="1.5" stroke-linecap="butt"/>
<text font-size="9.9" font-family='"Liberation Sans", Arial, sans-serif' text-anchor="end" fill="#111" font-weight="bold" stroke="#111" stroke-width="0.28" transform="translate(62.4 446) scale(0.92 1)">88</text>
<line x1="64.1" y1="458" x2="68.9" y2="458" stroke="#111" stroke-width="1.5" stroke-linecap="butt"/>
<text font-size="9.9" font-family='"Liberation Sans", Arial, sans-serif' text-anchor="end" fill="#111" font-weight="bold" stroke="#111" stroke-width="0.28" transform="translate(62.4 461.8) scale(0.92 1)">68</text>
<line x1="64.1" y1="473.8" x2="68.9" y2="473.8" stroke="#111" stroke-width="1.5" stroke-linecap="butt"/>
<text font-size="9.9" font-family='"Liberation Sans", Arial, sans-serif' text-anchor="end" fill="#111" font-weight="bold" stroke="#111" stroke-width="0.28" transform="translate(62.4 477.6) scale(0.92 1)">48</text>
<line x1="64.1" y1="489.6" x2="68.9" y2="489.6" stroke="#111" stroke-width="1.5" stroke-linecap="butt"/>
<text font-size="9.9" font-family='"Liberation Sans", Arial, sans-serif' text-anchor="end" fill="#111" font-weight="bold" stroke="#111" stroke-width="0.28" transform="translate(62.4 493.4) scale(0.92 1)">28</text>
<text font-size="9.9" font-family='"Liberation Sans", Arial, sans-serif' text-anchor="end" fill="#111" font-weight="bold" stroke="#111" stroke-width="0.28" transform="translate(62.4 509.1) scale(0.92 1)">8</text>
<line x1="64.1" y1="520" x2="68.9" y2="520" stroke="#111" stroke-width="1.5" stroke-linecap="butt"/>
<text font-size="9.9" font-family='"Liberation Sans", Arial, sans-serif' text-anchor="end" fill="#111" font-weight="bold" stroke="#111" stroke-width="0.28" transform="translate(62.4 523.8) scale(0.92 1)">2</text>
<line x1="64.1" y1="528.4" x2="68.9" y2="528.4" stroke="#111" stroke-width="1.5" stroke-linecap="butt"/>
<text font-size="9.9" font-family='"Liberation Sans", Arial, sans-serif' text-anchor="end" fill="#111" font-weight="bold" stroke="#111" stroke-width="0.28" transform="translate(62.4 532.2) scale(0.92 1)">0</text>
<line x1="113.6" y1="528.4" x2="113.6" y2="533.8" stroke="#111" stroke-width="1.3" stroke-linecap="butt"/>
<text font-size="9.9" font-family='"Liberation Sans", Arial, sans-serif' text-anchor="middle" fill="#111" font-weight="bold" stroke="#111" stroke-width="0.28" transform="translate(113.6 545.2) scale(0.92 1)">control</text>
<line x1="204.1" y1="528.4" x2="204.1" y2="533.8" stroke="#111" stroke-width="1.3" stroke-linecap="butt"/>
<text font-size="9.9" font-family='"Liberation Sans", Arial, sans-serif' text-anchor="middle" fill="#111" font-weight="bold" stroke="#111" stroke-width="0.28" transform="translate(204.1 545.2) scale(0.92 1)">cold</text>
<text font-size="10.6" font-family='"Liberation Sans", Arial, sans-serif' text-anchor="middle" fill="#222" transform="translate(194.6 450.8)" stroke="#222" stroke-width="0.25">**</text>
<text font-size="10.6" font-family='"Liberation Sans", Arial, sans-serif' text-anchor="middle" fill="#222" transform="translate(212.8 436.5)" stroke="#222" stroke-width="0.25">**</text>
<text font-size="10.6" font-family='"Liberation Sans", Arial, sans-serif' text-anchor="middle" fill="#222" transform="translate(233.3 440)" stroke="#222" stroke-width="0.25">**</text>
<rect x="82.5" y="410" width="13" height="5.4" fill="#ffffff" stroke="#555" stroke-width="0.8"/>
<text font-size="9.8" font-family='"Liberation Sans", Arial, sans-serif' text-anchor="start" fill="#111" transform="translate(103.1 416.2) scale(0.92 1)" stroke="#111" stroke-width="0.15">Nip</text>
<rect x="82.5" y="428.3" width="13" height="5.4" fill="#f487f4" stroke="#555" stroke-width="0.8"/>
<text font-size="9.8" font-family='"Liberation Sans", Arial, sans-serif' text-anchor="start" fill="#111" transform="translate(103.1 434.5) scale(0.92 1)" stroke="#111" stroke-width="0.15">OE-21</text>
<rect x="82.5" y="446.5" width="13" height="5.4" fill="#a5a3a5" stroke="#555" stroke-width="0.8"/>
<text font-size="9.8" font-family='"Liberation Sans", Arial, sans-serif' text-anchor="start" fill="#111" transform="translate(103.1 452.7) scale(0.92 1)" stroke="#111" stroke-width="0.15">OE-35</text>
<rect x="82.5" y="464.8" width="13" height="5.4" fill="#fffb9c" stroke="#555" stroke-width="0.8"/>
<text font-size="9.8" font-family='"Liberation Sans", Arial, sans-serif' text-anchor="start" fill="#111" transform="translate(103.1 471) scale(0.92 1)" stroke="#111" stroke-width="0.15">OE-36</text>
<text font-size="10.6" font-family='"Liberation Sans", Arial, sans-serif' text-anchor="middle" fill="#111" font-weight="bold" stroke="#111" stroke-width="0.28" font-style="italic" textLength="42.6" lengthAdjust="spacingAndGlyphs" transform="translate(26.8 459.9) rotate(-90)">OsCBF3</text>
<text font-size="11" font-family='"Liberation Sans", Arial, sans-serif' text-anchor="middle" fill="#111" font-weight="bold" stroke="#111" stroke-width="0.28" textLength="134.2" lengthAdjust="spacingAndGlyphs" transform="translate(39 458.3) rotate(-90)">Relative expression level</text>
<rect x="335.7" y="522.1" width="16.4" height="7.7" fill="#ffffff" stroke="#555" stroke-width="0.8"/>
<line x1="335.3" y1="522.1" x2="352.5" y2="522.1" stroke="#2e2e2e" stroke-width="1.1" stroke-linecap="butt"/>
<rect x="354.7" y="521.8" width="16.3" height="8" fill="#f487f4" stroke="#555" stroke-width="0.8"/>
<line x1="354.3" y1="521.8" x2="371.4" y2="521.8" stroke="#2e2e2e" stroke-width="1.1" stroke-linecap="butt"/>
<rect x="373.8" y="521.4" width="16.3" height="8.4" fill="#a5a3a5" stroke="#555" stroke-width="0.8"/>
<line x1="373.4" y1="521.4" x2="390.5" y2="521.4" stroke="#2e2e2e" stroke-width="1.1" stroke-linecap="butt"/>
<rect x="392.8" y="524.4" width="16.4" height="5.4" fill="#fffb9c" stroke="#555" stroke-width="0.8"/>
<line x1="392.4" y1="524.4" x2="409.6" y2="524.4" stroke="#2e2e2e" stroke-width="1.1" stroke-linecap="butt"/>
<rect x="430.1" y="411.3" width="16.1" height="118.5" fill="#ffffff" stroke="#555" stroke-width="0.8"/>
<line x1="429.7" y1="411.3" x2="446.6" y2="411.3" stroke="#2e2e2e" stroke-width="1.1" stroke-linecap="butt"/>
<rect x="448.9" y="426.9" width="16.3" height="102.9" fill="#f487f4" stroke="#555" stroke-width="0.8"/>
<line x1="448.5" y1="426.9" x2="465.6" y2="426.9" stroke="#2e2e2e" stroke-width="1.1" stroke-linecap="butt"/>
<rect x="468.2" y="461.9" width="16.2" height="67.9" fill="#a5a3a5" stroke="#555" stroke-width="0.8"/>
<line x1="467.8" y1="461.9" x2="484.8" y2="461.9" stroke="#2e2e2e" stroke-width="1.1" stroke-linecap="butt"/>
<rect x="487.4" y="476" width="16.7" height="53.8" fill="#fffb9c" stroke="#555" stroke-width="0.8"/>
<line x1="487" y1="476" x2="504.5" y2="476" stroke="#2e2e2e" stroke-width="1.1" stroke-linecap="butt"/>
<line x1="343.9" y1="520.9" x2="343.9" y2="523.3" stroke="#2a2a2a" stroke-width="1" stroke-linecap="butt"/>
<line x1="339.6" y1="520.9" x2="348.2" y2="520.9" stroke="#2a2a2a" stroke-width="1" stroke-linecap="butt"/>
<line x1="339.6" y1="523.3" x2="348.2" y2="523.3" stroke="#2a2a2a" stroke-width="1" stroke-linecap="butt"/>
<line x1="362.85" y1="519.8" x2="362.85" y2="523.6" stroke="#2a2a2a" stroke-width="1" stroke-linecap="butt"/>
<line x1="358.58" y1="519.8" x2="367.12" y2="519.8" stroke="#2a2a2a" stroke-width="1" stroke-linecap="butt"/>
<line x1="358.58" y1="523.6" x2="367.12" y2="523.6" stroke="#2a2a2a" stroke-width="1" stroke-linecap="butt"/>
<line x1="381.95" y1="520.4" x2="381.95" y2="522.4" stroke="#2a2a2a" stroke-width="1" stroke-linecap="butt"/>
<line x1="377.67" y1="520.4" x2="386.23" y2="520.4" stroke="#2a2a2a" stroke-width="1" stroke-linecap="butt"/>
<line x1="377.67" y1="522.4" x2="386.23" y2="522.4" stroke="#2a2a2a" stroke-width="1" stroke-linecap="butt"/>
<line x1="401" y1="523.6" x2="401" y2="525.2" stroke="#2a2a2a" stroke-width="1" stroke-linecap="butt"/>
<line x1="396.7" y1="523.6" x2="405.3" y2="523.6" stroke="#2a2a2a" stroke-width="1" stroke-linecap="butt"/>
<line x1="396.7" y1="525.2" x2="405.3" y2="525.2" stroke="#2a2a2a" stroke-width="1" stroke-linecap="butt"/>
<line x1="438.15" y1="406.7" x2="438.15" y2="415.4" stroke="#2a2a2a" stroke-width="1" stroke-linecap="butt"/>
<line x1="433.92" y1="406.7" x2="442.38" y2="406.7" stroke="#2a2a2a" stroke-width="1" stroke-linecap="butt"/>
<line x1="433.92" y1="415.4" x2="442.38" y2="415.4" stroke="#2a2a2a" stroke-width="1" stroke-linecap="butt"/>
<line x1="457.05" y1="419.3" x2="457.05" y2="433.4" stroke="#2a2a2a" stroke-width="1" stroke-linecap="butt"/>
<line x1="452.77" y1="419.3" x2="461.33" y2="419.3" stroke="#2a2a2a" stroke-width="1" stroke-linecap="butt"/>
<line x1="452.77" y1="433.4" x2="461.33" y2="433.4" stroke="#2a2a2a" stroke-width="1" stroke-linecap="butt"/>
<line x1="476.3" y1="456.2" x2="476.3" y2="466.9" stroke="#2a2a2a" stroke-width="1" stroke-linecap="butt"/>
<line x1="472.05" y1="456.2" x2="480.55" y2="456.2" stroke="#2a2a2a" stroke-width="1" stroke-linecap="butt"/>
<line x1="472.05" y1="466.9" x2="480.55" y2="466.9" stroke="#2a2a2a" stroke-width="1" stroke-linecap="butt"/>
<line x1="495.75" y1="464.6" x2="495.75" y2="486.7" stroke="#2a2a2a" stroke-width="1" stroke-linecap="butt"/>
<line x1="491.38" y1="464.6" x2="500.12" y2="464.6" stroke="#2a2a2a" stroke-width="1" stroke-linecap="butt"/>
<line x1="491.38" y1="486.7" x2="500.12" y2="486.7" stroke="#2a2a2a" stroke-width="1" stroke-linecap="butt"/>
<line x1="325.7" y1="390.8" x2="325.7" y2="530.4" stroke="#111" stroke-width="1.3" stroke-linecap="butt"/>
<line x1="325.1" y1="529.8" x2="514" y2="529.8" stroke="#111" stroke-width="1.3" stroke-linecap="butt"/>
<line x1="320.9" y1="392.4" x2="325.7" y2="392.4" stroke="#111" stroke-width="1.5" stroke-linecap="butt"/>
<text font-size="9.9" font-family='"Liberation Sans", Arial, sans-serif' text-anchor="end" fill="#111" font-weight="bold" stroke="#111" stroke-width="0.28" transform="translate(319.2 396.2) scale(0.92 1)">20</text>
<line x1="320.9" y1="426.6" x2="325.7" y2="426.6" stroke="#111" stroke-width="1.5" stroke-linecap="butt"/>
<text font-size="9.9" font-family='"Liberation Sans", Arial, sans-serif' text-anchor="end" fill="#111" font-weight="bold" stroke="#111" stroke-width="0.28" transform="translate(319.2 430.4) scale(0.92 1)">15</text>
<line x1="320.9" y1="461" x2="325.7" y2="461" stroke="#111" stroke-width="1.5" stroke-linecap="butt"/>
<text font-size="9.9" font-family='"Liberation Sans", Arial, sans-serif' text-anchor="end" fill="#111" font-weight="bold" stroke="#111" stroke-width="0.28" transform="translate(319.2 464.8) scale(0.92 1)">10</text>
<line x1="320.9" y1="495.4" x2="325.7" y2="495.4" stroke="#111" stroke-width="1.5" stroke-linecap="butt"/>
<text font-size="9.9" font-family='"Liberation Sans", Arial, sans-serif' text-anchor="end" fill="#111" font-weight="bold" stroke="#111" stroke-width="0.28" transform="translate(319.2 499.2) scale(0.92 1)">5</text>
<line x1="320.9" y1="529.8" x2="325.7" y2="529.8" stroke="#111" stroke-width="1.5" stroke-linecap="butt"/>
<text font-size="9.9" font-family='"Liberation Sans", Arial, sans-serif' text-anchor="end" fill="#111" font-weight="bold" stroke="#111" stroke-width="0.28" transform="translate(319.2 533.6) scale(0.92 1)">0</text>
<line x1="372.6" y1="529.8" x2="372.6" y2="535.2" stroke="#111" stroke-width="1.3" stroke-linecap="butt"/>
<text font-size="9.9" font-family='"Liberation Sans", Arial, sans-serif' text-anchor="middle" fill="#111" font-weight="bold" stroke="#111" stroke-width="0.28" transform="translate(372.6 546.6) scale(0.92 1)">control</text>
<line x1="466.7" y1="529.8" x2="466.7" y2="535.2" stroke="#111" stroke-width="1.3" stroke-linecap="butt"/>
<text font-size="9.9" font-family='"Liberation Sans", Arial, sans-serif' text-anchor="middle" fill="#111" font-weight="bold" stroke="#111" stroke-width="0.28" transform="translate(466.7 546.6) scale(0.92 1)">cold</text>
<text font-size="10.6" font-family='"Liberation Sans", Arial, sans-serif' text-anchor="middle" fill="#222" transform="translate(456.4 418.1)" stroke="#222" stroke-width="0.25">**</text>
<text font-size="10.6" font-family='"Liberation Sans", Arial, sans-serif' text-anchor="middle" fill="#222" transform="translate(475.5 454.3)" stroke="#222" stroke-width="0.25">**</text>
<text font-size="10.6" font-family='"Liberation Sans", Arial, sans-serif' text-anchor="middle" fill="#222" transform="translate(495.3 465)" stroke="#222" stroke-width="0.25">**</text>
<rect x="350.3" y="404.5" width="13.3" height="5.4" fill="#ffffff" stroke="#555" stroke-width="0.8"/>
<text font-size="9.8" font-family='"Liberation Sans", Arial, sans-serif' text-anchor="start" fill="#111" transform="translate(370.4 410.7) scale(0.92 1)" stroke="#111" stroke-width="0.15">Nip</text>
<rect x="350.3" y="423" width="13.3" height="5.4" fill="#f487f4" stroke="#555" stroke-width="0.8"/>
<text font-size="9.8" font-family='"Liberation Sans", Arial, sans-serif' text-anchor="start" fill="#111" transform="translate(370.4 429.2) scale(0.92 1)" stroke="#111" stroke-width="0.15">OE-21</text>
<rect x="350.3" y="441.5" width="13.3" height="5.4" fill="#a5a3a5" stroke="#555" stroke-width="0.8"/>
<text font-size="9.8" font-family='"Liberation Sans", Arial, sans-serif' text-anchor="start" fill="#111" transform="translate(370.4 447.7) scale(0.92 1)" stroke="#111" stroke-width="0.15">OE-35</text>
<rect x="350.3" y="459.9" width="13.3" height="5.4" fill="#fffb9c" stroke="#555" stroke-width="0.8"/>
<text font-size="9.8" font-family='"Liberation Sans", Arial, sans-serif' text-anchor="start" fill="#111" transform="translate(370.4 466.1) scale(0.92 1)" stroke="#111" stroke-width="0.15">OE-36</text>
<text font-size="10.6" font-family='"Liberation Sans", Arial, sans-serif' text-anchor="middle" fill="#111" font-weight="bold" stroke="#111" stroke-width="0.28" font-style="italic" textLength="44.4" lengthAdjust="spacingAndGlyphs" transform="translate(287.4 460) rotate(-90)">OsTPP1</text>
<text font-size="11" font-family='"Liberation Sans", Arial, sans-serif' text-anchor="middle" fill="#111" font-weight="bold" stroke="#111" stroke-width="0.28" textLength="137.7" lengthAdjust="spacingAndGlyphs" transform="translate(298.7 459) rotate(-90)">Relative expression level</text>
</svg>
</body>
</html>
